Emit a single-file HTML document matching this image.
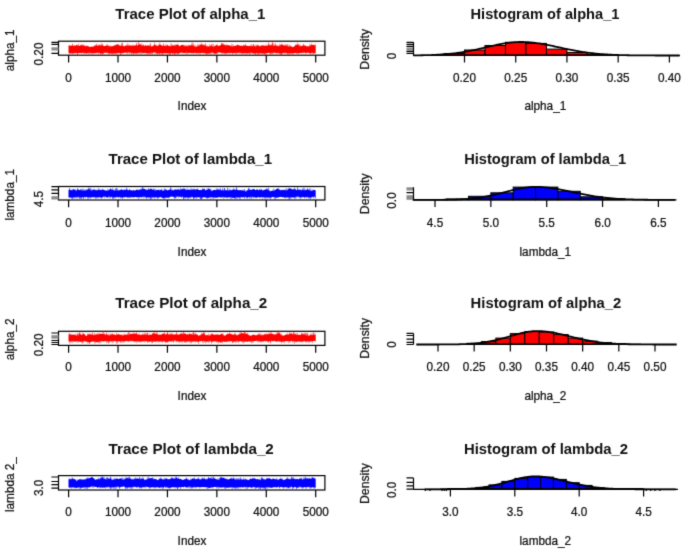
<!DOCTYPE html>
<html><head><meta charset="utf-8"><title>MCMC diagnostics</title>
<style>html,body{margin:0;padding:0;background:#fff;width:685px;height:559px;overflow:hidden}svg{display:block}</style>
</head><body>
<svg width="685" height="559" viewBox="0 0 685 559" font-family="Liberation Sans, Arial, sans-serif" fill="#111">
<style>text{stroke:#111;stroke-width:0.25px}text[font-weight]{stroke-width:0px}</style>
<rect width="685" height="559" fill="#fff"/>
<defs><filter id="b" x="0" y="0" width="685" height="559" filterUnits="userSpaceOnUse" color-interpolation-filters="sRGB"><feConvolveMatrix order="3" kernelMatrix="1 6 1 6 36 6 1 6 1" divisor="64" edgeMode="duplicate" preserveAlpha="true"/></filter></defs><g filter="url(#b)">
<rect width="685" height="559" fill="#fff"/>
<text transform="translate(14.3 50.3) rotate(-90) scale(0.9800 1.0000)" font-size="12" text-anchor="middle">alpha_1</text>
<text transform="translate(14.3 194.8) rotate(-90) scale(0.9800 1.0000)" font-size="12" text-anchor="middle">lambda_1</text>
<text transform="translate(14.3 339.4) rotate(-90) scale(0.9800 1.0000)" font-size="12" text-anchor="middle">alpha_2</text>
<text transform="translate(14.3 484.6) rotate(-90) scale(0.9800 1.0000)" font-size="12" text-anchor="middle">lambda 2_</text>
<text transform="translate(190.35 19.25) scale(0.9997 1.0300)" font-size="15" text-anchor="middle" font-weight="bold">Trace Plot of alpha_1</text>
<rect x="58.5" y="41.2" width="266.4" height="14" fill="none" stroke="#000" stroke-width="1.2"/>
<rect x="51.4" y="47.3" width="7.1" height="3.2" fill="#8c8c8c"/>
<path d="M68.6 55.2V62.5M118.02 55.2V62.5M167.44 55.2V62.5M216.86 55.2V62.5M266.28 55.2V62.5M315.7 55.2V62.5M51.4 42.3H58.5M51.4 44.4H58.5M51.4 53.4H58.5" stroke="#000" stroke-width="1.2" fill="none"/>
<text transform="translate(68.6 82) scale(0.9800 1.0000)" font-size="12" text-anchor="middle">0</text>
<text transform="translate(118.02 82) scale(0.9800 1.0000)" font-size="12" text-anchor="middle">1000</text>
<text transform="translate(167.44 82) scale(0.9800 1.0000)" font-size="12" text-anchor="middle">2000</text>
<text transform="translate(216.86 82) scale(0.9800 1.0000)" font-size="12" text-anchor="middle">3000</text>
<text transform="translate(266.28 82) scale(0.9800 1.0000)" font-size="12" text-anchor="middle">4000</text>
<text transform="translate(315.7 82) scale(0.9800 1.0000)" font-size="12" text-anchor="middle">5000</text>
<text transform="translate(192 109.6) scale(0.9800 1.0000)" font-size="12" text-anchor="middle">Index</text>
<text transform="translate(42.6 54) rotate(-90) scale(0.9800 1.0000)" font-size="12" text-anchor="middle">0.20</text>
<polygon points="68.6,44.54 69.6,45.21 70.6,45.54 71.6,45.78 72.6,44.52 73.6,45.78 74.6,44.66 75.6,45.58 76.6,44.67 77.6,45.13 78.6,43 79.6,45.76 80.6,45.01 81.6,44.15 82.6,43.94 83.6,44.96 84.6,44.42 85.6,45.82 86.6,45.61 87.6,45.5 88.6,46.06 89.6,46.8 90.6,46.58 91.6,46.61 92.6,46.56 93.6,46.17 94.6,45.35 95.6,44.62 96.6,43.56 97.6,45.03 98.6,44.34 99.6,44.48 100.6,44.69 101.6,42.69 102.6,44.04 103.6,45.69 104.6,45.88 105.6,45.93 106.6,44.2 107.6,43.97 108.6,45.79 109.6,45.3 110.6,45.2 111.6,46.25 112.6,46 113.6,45.83 114.6,44.84 115.6,44.62 116.6,44.21 117.6,44.14 118.6,44.87 119.6,44.06 120.6,45.79 121.6,45.79 122.6,45.5 123.6,45.91 124.6,45.72 125.6,45.18 126.6,44.74 127.6,42.89 128.6,44.41 129.6,44.7 130.6,45.74 131.6,45.5 132.6,44 133.6,45.34 134.6,44.69 135.6,45.28 136.6,44.71 137.6,45.54 138.6,44.44 139.6,43.29 140.6,44.25 141.6,42.89 142.6,44.79 143.6,44.75 144.6,45.33 145.6,45.21 146.6,45.71 147.6,45.12 148.6,45.23 149.6,43.93 150.6,46.04 151.6,46.23 152.6,45.42 153.6,45.5 154.6,41.77 155.6,44.82 156.6,44.48 157.6,45.71 158.6,44.04 159.6,42.15 160.6,44.12 161.6,45.24 162.6,45.15 163.6,45.12 164.6,45.62 165.6,44.2 166.6,44.36 167.6,44.59 168.6,45.76 169.6,45.92 170.6,43.35 171.6,43.42 172.6,44.71 173.6,45.28 174.6,44.33 175.6,44.2 176.6,44.65 177.6,43.3 178.6,44.67 179.6,45.45 180.6,45.51 181.6,44.99 182.6,44.51 183.6,44.85 184.6,44.84 185.6,44.85 186.6,45.36 187.6,44.7 188.6,44.38 189.6,45.27 190.6,45.39 191.6,42.38 192.6,42.51 193.6,43.02 194.6,45.02 195.6,45.07 196.6,46.28 197.6,43.54 198.6,44.7 199.6,44.01 200.6,43.49 201.6,44.63 202.6,44.65 203.6,43.7 204.6,44.81 205.6,44.58 206.6,45.88 207.6,44.89 208.6,46.53 209.6,43.61 210.6,45.12 211.6,43.72 212.6,43.73 213.6,43.81 214.6,46.15 215.6,45.2 216.6,44.09 217.6,44.4 218.6,45.94 219.6,45.78 220.6,44.89 221.6,43.13 222.6,44.43 223.6,43 224.6,44.51 225.6,44.46 226.6,44.13 227.6,44.8 228.6,45.13 229.6,45 230.6,45.46 231.6,43.39 232.6,43.93 233.6,45.17 234.6,46.05 235.6,45.42 236.6,45.29 237.6,43.91 238.6,45.11 239.6,45.18 240.6,45.84 241.6,45.23 242.6,45.77 243.6,44.49 244.6,45.25 245.6,43.29 246.6,45.88 247.6,45.73 248.6,46.02 249.6,45.64 250.6,45.03 251.6,43.53 252.6,45.55 253.6,44.5 254.6,45.77 255.6,44.49 256.6,44.74 257.6,44.35 258.6,45.31 259.6,45.75 260.6,45.27 261.6,44.66 262.6,45.99 263.6,44.5 264.6,45.72 265.6,44.37 266.6,44.42 267.6,45.22 268.6,43.72 269.6,45 270.6,43.88 271.6,43.9 272.6,42.84 273.6,43.7 274.6,43.95 275.6,42.81 276.6,45.56 277.6,44.34 278.6,46.01 279.6,43.27 280.6,44.39 281.6,43.29 282.6,44.22 283.6,45.28 284.6,44.44 285.6,43.86 286.6,44.54 287.6,46.19 288.6,45.31 289.6,44.18 290.6,45.53 291.6,46.49 292.6,46.9 293.6,46.39 294.6,46.12 295.6,43.71 296.6,44.84 297.6,41.71 298.6,45.04 299.6,43.85 300.6,44.91 301.6,45.83 302.6,45.39 303.6,44.16 304.6,45.18 305.6,45.45 306.6,46.33 307.6,45.65 308.6,46.19 309.6,43.37 310.6,44.95 311.6,42.48 312.6,44.98 313.6,44.32 314.6,45.07 315.6,42.14 315.6,53.7 314.6,53.29 313.6,53.13 312.6,54.26 311.6,53.1 310.6,55.13 309.6,53.64 308.6,52.84 307.6,53.1 306.6,53.22 305.6,54.49 304.6,52.58 303.6,53.14 302.6,53.35 301.6,53.52 300.6,53.36 299.6,53.17 298.6,54.33 297.6,53.51 296.6,54.17 295.6,53.23 294.6,53.12 293.6,53.99 292.6,54.97 291.6,53.47 290.6,53.46 289.6,55.14 288.6,54.81 287.6,53.73 286.6,53.54 285.6,53.15 284.6,54.63 283.6,52.9 282.6,53.9 281.6,54.69 280.6,55.12 279.6,54.36 278.6,54.1 277.6,53.31 276.6,54.48 275.6,53.36 274.6,52.81 273.6,53.95 272.6,53.6 271.6,54.47 270.6,54.17 269.6,54.05 268.6,53.03 267.6,52.96 266.6,54.64 265.6,54.43 264.6,55.26 263.6,53.56 262.6,53.81 261.6,54.66 260.6,53.39 259.6,55.04 258.6,54.49 257.6,54.08 256.6,53.14 255.6,54.52 254.6,54.17 253.6,54.09 252.6,53.76 251.6,52.75 250.6,53.25 249.6,52.94 248.6,53.53 247.6,53.78 246.6,54.09 245.6,54.77 244.6,53.49 243.6,53.23 242.6,54.42 241.6,54.31 240.6,53.45 239.6,53.63 238.6,53.45 237.6,53.03 236.6,53.66 235.6,54.51 234.6,53.21 233.6,53.62 232.6,55.12 231.6,53.29 230.6,53.24 229.6,53.3 228.6,53.04 227.6,54.12 226.6,53.63 225.6,53.84 224.6,54.99 223.6,53.3 222.6,54.27 221.6,53.56 220.6,52.63 219.6,52.28 218.6,52.53 217.6,53.05 216.6,54.93 215.6,53.61 214.6,54.82 213.6,53.14 212.6,53.49 211.6,54.05 210.6,54.35 209.6,54.81 208.6,53.82 207.6,53.91 206.6,55.02 205.6,53.71 204.6,53.17 203.6,53.85 202.6,53.33 201.6,53.04 200.6,54.47 199.6,53.89 198.6,54.31 197.6,53.54 196.6,53.75 195.6,53.42 194.6,52.96 193.6,53.99 192.6,53.19 191.6,53.28 190.6,53.61 189.6,53.17 188.6,53.07 187.6,54.3 186.6,54.21 185.6,53.47 184.6,53.47 183.6,53.16 182.6,53.38 181.6,53.24 180.6,52.65 179.6,53.44 178.6,53.93 177.6,55.15 176.6,53.43 175.6,55 174.6,54.01 173.6,53.5 172.6,54.04 171.6,53.06 170.6,55.37 169.6,53.56 168.6,53.78 167.6,54.69 166.6,53.91 165.6,54.12 164.6,53.85 163.6,53.55 162.6,53.71 161.6,54.89 160.6,53.19 159.6,54.26 158.6,53.43 157.6,54.08 156.6,54.11 155.6,54.11 154.6,53.54 153.6,52.8 152.6,54.75 151.6,54.25 150.6,53.73 149.6,53.83 148.6,55 147.6,54.42 146.6,54.78 145.6,53.21 144.6,53.66 143.6,53.35 142.6,53.22 141.6,54.4 140.6,53.79 139.6,54.29 138.6,53.28 137.6,54.42 136.6,54.23 135.6,53.48 134.6,53.73 133.6,55.19 132.6,53.47 131.6,54.44 130.6,53.42 129.6,53.99 128.6,52.93 127.6,54.37 126.6,53.58 125.6,52.5 124.6,52.81 123.6,53.65 122.6,53.27 121.6,53.54 120.6,55.05 119.6,53.5 118.6,53.13 117.6,53.46 116.6,53.73 115.6,53.21 114.6,54.97 113.6,53.73 112.6,55.19 111.6,53.82 110.6,53.31 109.6,53.82 108.6,55.12 107.6,52.93 106.6,53.31 105.6,52.88 104.6,53.05 103.6,52.88 102.6,54.95 101.6,53.76 100.6,54.36 99.6,53.1 98.6,54.53 97.6,53.54 96.6,53.14 95.6,53.87 94.6,53.73 93.6,53.71 92.6,54.95 91.6,53.83 90.6,54.26 89.6,53.94 88.6,54.4 87.6,53.15 86.6,54.08 85.6,53.33 84.6,53.82 83.6,54.58 82.6,53.05 81.6,53.74 80.6,53.11 79.6,53.34 78.6,52.95 77.6,54.9 76.6,53.32 75.6,53.8 74.6,53.79 73.6,53.42 72.6,55.06 71.6,53.34 70.6,53.88 69.6,55.02 68.6,52.88" fill="#ff0000" fill-opacity="0.4"/>
<polygon points="68.6,45.65 69.6,45.82 70.6,45.84 71.6,45.82 72.6,45.42 73.6,45.99 74.6,45.74 75.6,45.95 76.6,44.85 77.6,45.48 78.6,45.8 79.6,46.01 80.6,45.35 81.6,45.29 82.6,45.75 83.6,45.55 84.6,45.93 85.6,46.41 86.6,46.06 87.6,46.36 88.6,46.62 89.6,46.89 90.6,46.97 91.6,46.77 92.6,46.86 93.6,46.78 94.6,45.82 95.6,45.73 96.6,45.94 97.6,46.03 98.6,45.57 99.6,45.53 100.6,45.24 101.6,45.49 102.6,45.48 103.6,45.89 104.6,46.07 105.6,45.99 106.6,45.26 107.6,45.9 108.6,45.8 109.6,46.48 110.6,46.87 111.6,46.3 112.6,46.28 113.6,45.92 114.6,45.58 115.6,45.19 116.6,44.98 117.6,44.33 118.6,44.99 119.6,45.89 120.6,45.83 121.6,45.98 122.6,45.63 123.6,45.91 124.6,46.39 125.6,45.71 126.6,45.48 127.6,45.69 128.6,45.98 129.6,45.3 130.6,45.75 131.6,45.85 132.6,45.68 133.6,46.03 134.6,45.41 135.6,45.59 136.6,45.29 137.6,45.6 138.6,44.66 139.6,44.45 140.6,44.7 141.6,45.61 142.6,45.81 143.6,45.42 144.6,46.15 145.6,45.37 146.6,46.04 147.6,45.55 148.6,45.75 149.6,45.9 150.6,46.09 151.6,46.63 152.6,46.27 153.6,45.75 154.6,44.42 155.6,45.38 156.6,46.08 157.6,46.29 158.6,45.29 159.6,44.95 160.6,44.76 161.6,45.7 162.6,45.98 163.6,45.91 164.6,45.99 165.6,46.04 166.6,45.9 167.6,45.07 168.6,45.93 169.6,46.35 170.6,46.15 171.6,45.63 172.6,45.4 173.6,45.79 174.6,45.43 175.6,45.69 176.6,44.73 177.6,44.85 178.6,45.42 179.6,46.52 180.6,45.74 181.6,45.09 182.6,44.89 183.6,45.55 184.6,46.14 185.6,46.24 186.6,46.07 187.6,46.46 188.6,45.91 189.6,45.55 190.6,45.42 191.6,45.18 192.6,45.31 193.6,45.71 194.6,46.41 195.6,46.92 196.6,46.72 197.6,46.17 198.6,45.71 199.6,45.75 200.6,45.04 201.6,44.77 202.6,44.82 203.6,45.43 204.6,45.45 205.6,45.78 206.6,46.48 207.6,46.58 208.6,46.56 209.6,46.41 210.6,46.01 211.6,45.59 212.6,46.53 213.6,46.61 214.6,46.45 215.6,45.38 216.6,45.24 217.6,45.61 218.6,46.01 219.6,45.78 220.6,45.28 221.6,44.31 222.6,44.49 223.6,44.84 224.6,45.02 225.6,45.7 226.6,45.17 227.6,45.32 228.6,45.55 229.6,45.58 230.6,46.27 231.6,46.19 232.6,46.73 233.6,45.81 234.6,46.33 235.6,45.49 236.6,45.64 237.6,45.08 238.6,45.16 239.6,45.74 240.6,45.99 241.6,45.67 242.6,46.13 243.6,45.44 244.6,45.59 245.6,45.14 246.6,46.03 247.6,45.81 248.6,46.33 249.6,45.76 250.6,46.15 251.6,46.33 252.6,45.92 253.6,46.19 254.6,45.97 255.6,46.69 256.6,45.91 257.6,45.32 258.6,45.81 259.6,46.31 260.6,46.55 261.6,45.52 262.6,46.27 263.6,45.54 264.6,46.02 265.6,46.03 266.6,46.1 267.6,45.72 268.6,44.93 269.6,45.37 270.6,45.41 271.6,45.39 272.6,44.97 273.6,45.88 274.6,45.41 275.6,45.42 276.6,45.63 277.6,46.17 278.6,46.2 279.6,45.64 280.6,45.48 281.6,44.55 282.6,45.1 283.6,45.43 284.6,45.87 285.6,45.5 286.6,45.87 287.6,46.34 288.6,46.58 289.6,46.98 290.6,46.25 291.6,46.55 292.6,47.14 293.6,46.93 294.6,46.15 295.6,45.21 296.6,45.09 297.6,44.51 298.6,45.71 299.6,46.05 300.6,46.55 301.6,46.07 302.6,45.63 303.6,45.68 304.6,45.75 305.6,45.82 306.6,46.46 307.6,46.46 308.6,46.54 309.6,46.13 310.6,45.49 311.6,44.9 312.6,45.05 313.6,45.26 314.6,45.54 315.6,44.94 315.6,53.14 314.6,52.98 313.6,52.92 312.6,52.46 311.6,52.64 310.6,53.33 309.6,52.88 308.6,52.71 307.6,52.54 306.6,52.64 305.6,52.96 304.6,52.57 303.6,52.68 302.6,52.55 301.6,52.72 300.6,52.88 299.6,53.02 298.6,53.08 297.6,53.07 296.6,53.33 295.6,53.12 294.6,52.88 293.6,53.35 292.6,53.17 291.6,53.14 290.6,53.17 289.6,53.34 288.6,53.23 287.6,53.37 286.6,53.27 285.6,52.77 284.6,52.83 283.6,52.81 282.6,53.29 281.6,53.62 280.6,53.69 279.6,53.15 278.6,53.12 277.6,52.78 276.6,53.08 275.6,52.93 274.6,52.52 273.6,52.81 272.6,52.85 271.6,52.85 270.6,52.89 269.6,52.7 268.6,52.68 267.6,52.91 266.6,53 265.6,53.31 264.6,53.46 263.6,53.55 262.6,53.39 261.6,53.18 260.6,53.06 259.6,53.24 258.6,53.16 257.6,53.25 256.6,53.02 255.6,53.2 254.6,53.34 253.6,53.24 252.6,53.18 251.6,52.72 250.6,52.55 249.6,52.8 248.6,53.18 247.6,53.33 246.6,53.15 245.6,52.97 244.6,53 243.6,53.02 242.6,53.17 241.6,52.79 240.6,52.92 239.6,52.39 238.6,52.64 237.6,52.78 236.6,52.9 235.6,52.71 234.6,52.9 233.6,52.97 232.6,53.32 231.6,52.68 230.6,52.92 229.6,52.73 228.6,52.7 227.6,53.04 226.6,53.3 225.6,53.18 224.6,53.19 223.6,52.71 222.6,52.88 221.6,52.85 220.6,52.63 219.6,52.25 218.6,52.21 217.6,52.57 216.6,53.13 215.6,53.52 214.6,53.76 213.6,53.07 212.6,52.44 211.6,52.25 210.6,52.89 209.6,53.01 208.6,53.45 207.6,53.41 206.6,53.22 205.6,53.33 204.6,53.16 203.6,52.85 202.6,53.03 201.6,52.86 200.6,52.98 199.6,52.98 198.6,52.85 197.6,53.08 196.6,53.17 195.6,52.9 194.6,52.76 193.6,52.76 192.6,53.03 191.6,53.15 190.6,52.66 189.6,52.98 188.6,52.81 187.6,52.89 186.6,52.41 185.6,52.74 184.6,52.91 183.6,52.91 182.6,52.61 181.6,52.5 180.6,52.55 179.6,53.06 178.6,53.67 177.6,53.35 176.6,53.18 175.6,53.2 174.6,53.26 173.6,53.34 172.6,53.2 171.6,53 170.6,53.57 169.6,53.47 168.6,53.35 167.6,52.9 166.6,52.91 165.6,53.09 164.6,53 163.6,53.32 162.6,53.19 161.6,53.09 160.6,53.15 159.6,52.88 158.6,53.31 157.6,53.22 156.6,53.15 155.6,52.31 154.6,52.17 153.6,52.3 152.6,53.03 151.6,52.45 150.6,52.75 149.6,53.04 148.6,53.2 147.6,53.17 146.6,52.98 145.6,52.88 144.6,52.81 143.6,53.15 142.6,53.09 141.6,52.6 140.6,52.73 139.6,52.49 138.6,52.7 137.6,52.98 136.6,53.22 135.6,53.33 134.6,53.2 133.6,53.39 132.6,52.73 131.6,52.99 130.6,52.58 129.6,52.44 128.6,52.22 127.6,52.57 126.6,52.71 125.6,52.45 124.6,52.61 123.6,52.76 122.6,53.08 121.6,53.16 120.6,53.25 119.6,53.06 118.6,52.68 117.6,53.28 116.6,53.16 115.6,53.05 114.6,53.17 113.6,53.25 112.6,53.39 111.6,53.23 110.6,53.26 109.6,53.63 108.6,53.32 107.6,52.66 106.6,52.66 105.6,52.56 104.6,52.72 103.6,52.85 102.6,53.15 101.6,53.38 100.6,53.28 99.6,53.04 98.6,52.83 97.6,52.49 96.6,53.06 95.6,53.11 94.6,53.04 93.6,53.08 92.6,53.15 91.6,52.97 90.6,52.66 89.6,52.69 88.6,52.75 87.6,53.01 86.6,53.49 85.6,53.31 84.6,52.99 83.6,52.78 82.6,52.62 81.6,53.16 80.6,52.87 79.6,53.21 78.6,52.75 77.6,53.33 76.6,52.97 75.6,52.82 74.6,52.95 73.6,53.23 72.6,53.26 71.6,53.25 70.6,53.26 69.6,53.22 68.6,52.83" fill="#ff0000" fill-opacity="1"/>
<path d="M72.6 45.42V43.8M77.6 53.33V55.02M96.6 45.94V44.67M100.6 53.28V54.61M102.6 45.48V44.38M102.6 53.15V54.21M103.6 52.85V53.91M111.6 53.23V54.08M115.6 53.05V54.18M120.6 53.25V55.05M121.6 45.98V43.4M122.6 45.63V42.9M131.6 52.99V53.6M136.6 45.29V43M138.6 44.66V42.17M143.6 45.42V44.55M150.6 46.09V43.49M150.6 52.75V54.42M157.6 53.22V54.77M159.6 52.88V54.51M162.6 53.19V54.88M163.6 45.91V43.65M169.6 53.47V55.15M172.6 53.2V54.28M174.6 53.26V54.87M193.6 52.76V53.57M201.6 44.77V43.28M205.6 45.78V43.45M206.6 53.22V54.5M217.6 52.57V53.36M221.6 44.31V43M222.6 44.49V43.37M229.6 52.73V53.76M236.6 52.9V53.71M243.6 53.02V53.79M249.6 52.8V54.14M250.6 52.55V53.81M253.6 46.19V43.99M255.6 53.2V54.89M257.6 53.25V54.73M262.6 46.27V45.19M264.6 53.46V54.44M268.6 44.93V42.58M270.6 52.89V54.36M272.6 44.97V42.24M272.6 52.85V53.61M281.6 53.62V54.57M287.6 46.34V44.16M287.6 53.37V54.68M289.6 46.98V46.07M290.6 53.17V53.72M298.6 45.71V44.51M298.6 53.08V53.75M303.6 45.68V43.93M313.6 52.92V54.19" stroke="#ff0000" stroke-width="0.7" stroke-opacity="0.9" fill="none"/>
<text transform="translate(190.3 163.75) scale(1.0018 1.0300)" font-size="15" text-anchor="middle" font-weight="bold">Trace Plot of lambda_1</text>
<rect x="58.5" y="186.5" width="266.4" height="13.5" fill="none" stroke="#000" stroke-width="1.2"/>
<rect x="51.4" y="196.2" width="7.1" height="3.3" fill="#8c8c8c"/>
<path d="M68.6 200V207.3M118.02 200V207.3M167.44 200V207.3M216.86 200V207.3M266.28 200V207.3M315.7 200V207.3M51.4 186.6H58.5M51.4 189.8H58.5M51.4 193.4H58.5" stroke="#000" stroke-width="1.2" fill="none"/>
<text transform="translate(68.6 226.5) scale(0.9800 1.0000)" font-size="12" text-anchor="middle">0</text>
<text transform="translate(118.02 226.5) scale(0.9800 1.0000)" font-size="12" text-anchor="middle">1000</text>
<text transform="translate(167.44 226.5) scale(0.9800 1.0000)" font-size="12" text-anchor="middle">2000</text>
<text transform="translate(216.86 226.5) scale(0.9800 1.0000)" font-size="12" text-anchor="middle">3000</text>
<text transform="translate(266.28 226.5) scale(0.9800 1.0000)" font-size="12" text-anchor="middle">4000</text>
<text transform="translate(315.7 226.5) scale(0.9800 1.0000)" font-size="12" text-anchor="middle">5000</text>
<text transform="translate(192 255.5) scale(0.9800 1.0000)" font-size="12" text-anchor="middle">Index</text>
<text transform="translate(42.6 199.2) rotate(-90) scale(0.9800 1.0000)" font-size="12" text-anchor="middle">4.5</text>
<polygon points="68.6,189.37 69.6,188.72 70.6,190.18 71.6,189.49 72.6,188.96 73.6,189.1 74.6,189.54 75.6,189.08 76.6,190.19 77.6,187.4 78.6,189.59 79.6,189.95 80.6,188.52 81.6,189.72 82.6,188.14 83.6,189.19 84.6,189.31 85.6,189.43 86.6,189.14 87.6,189.28 88.6,186.29 89.6,188.62 90.6,187.33 91.6,189 92.6,189.78 93.6,188.8 94.6,188.82 95.6,189.65 96.6,189.43 97.6,189.58 98.6,187.4 99.6,189.23 100.6,189.82 101.6,189.27 102.6,188.5 103.6,189.64 104.6,189.68 105.6,190.07 106.6,190.02 107.6,188.98 108.6,189.35 109.6,189.55 110.6,187.49 111.6,189.65 112.6,187.44 113.6,189.53 114.6,189.67 115.6,189.63 116.6,190.29 117.6,188.02 118.6,190.63 119.6,189.25 120.6,189.82 121.6,188.8 122.6,189.65 123.6,189.73 124.6,188.76 125.6,189.78 126.6,186.74 127.6,188.93 128.6,190.43 129.6,188.6 130.6,190.25 131.6,190.27 132.6,190.56 133.6,189.4 134.6,190.36 135.6,190.11 136.6,189.25 137.6,189.49 138.6,189.52 139.6,189.38 140.6,188.41 141.6,188.5 142.6,189 143.6,187.68 144.6,188.9 145.6,189.16 146.6,189.24 147.6,188.98 148.6,189.62 149.6,189.02 150.6,188.01 151.6,188.79 152.6,189.31 153.6,187.69 154.6,190.09 155.6,188.35 156.6,189.91 157.6,189.9 158.6,188.63 159.6,190 160.6,189.25 161.6,188.87 162.6,189.48 163.6,189.86 164.6,189.39 165.6,188.43 166.6,189.25 167.6,190.16 168.6,189.77 169.6,189.52 170.6,189.07 171.6,188.17 172.6,189.48 173.6,189.92 174.6,188.95 175.6,188.93 176.6,189.73 177.6,188.93 178.6,188.31 179.6,189.39 180.6,187.23 181.6,189.52 182.6,188.62 183.6,187.85 184.6,188.35 185.6,189.63 186.6,188.03 187.6,188.68 188.6,189.22 189.6,189.39 190.6,188.29 191.6,188.35 192.6,189.26 193.6,188.62 194.6,188.85 195.6,189.6 196.6,188.96 197.6,188.15 198.6,189.9 199.6,189.95 200.6,189.81 201.6,189.58 202.6,189.52 203.6,188.66 204.6,188.3 205.6,190.08 206.6,189.26 207.6,187.9 208.6,187.81 209.6,188.84 210.6,188.68 211.6,189.37 212.6,190.55 213.6,190 214.6,189.43 215.6,189.83 216.6,187.65 217.6,188.9 218.6,188.64 219.6,188.66 220.6,187.46 221.6,190.47 222.6,187.35 223.6,189.46 224.6,187.56 225.6,190.14 226.6,190.14 227.6,189.92 228.6,189.78 229.6,188.31 230.6,189.4 231.6,189.66 232.6,189.45 233.6,187.6 234.6,189.41 235.6,189.09 236.6,188.34 237.6,189.71 238.6,190 239.6,189.98 240.6,189.91 241.6,189.88 242.6,189.5 243.6,189.81 244.6,190.74 245.6,190.55 246.6,190.1 247.6,189.85 248.6,187.35 249.6,188.46 250.6,189.78 251.6,189.29 252.6,189.17 253.6,188.93 254.6,189.4 255.6,190.01 256.6,188.88 257.6,189.04 258.6,190.34 259.6,188.53 260.6,190.02 261.6,188.44 262.6,190.54 263.6,189.44 264.6,189.63 265.6,189.31 266.6,188.16 267.6,188.47 268.6,187.08 269.6,190.33 270.6,190.74 271.6,190.78 272.6,189.71 273.6,188.1 274.6,190.12 275.6,189.73 276.6,188.96 277.6,188.27 278.6,187.5 279.6,189.41 280.6,190.03 281.6,189.48 282.6,189.99 283.6,189.35 284.6,189.63 285.6,188.82 286.6,187.77 287.6,189.56 288.6,187.49 289.6,188.47 290.6,188.38 291.6,188.69 292.6,189.23 293.6,189.07 294.6,186.77 295.6,189.11 296.6,190.1 297.6,189 298.6,189.06 299.6,189.46 300.6,189.05 301.6,189.55 302.6,187.71 303.6,187.77 304.6,187.71 305.6,189.44 306.6,189.67 307.6,187.18 308.6,189.44 309.6,188.3 310.6,188.28 311.6,189.95 312.6,189.22 313.6,189.64 314.6,189.66 315.6,190.5 315.6,197.11 314.6,196.76 313.6,199.17 312.6,197.06 311.6,197.59 310.6,199.74 309.6,197.54 308.6,198.88 307.6,197.85 306.6,198.67 305.6,197.11 304.6,197.25 303.6,197.06 302.6,198.17 301.6,197.36 300.6,199.42 299.6,198.18 298.6,198.1 297.6,196.72 296.6,197.97 295.6,198.68 294.6,199.13 293.6,197.44 292.6,197.86 291.6,198.24 290.6,198.87 289.6,198.17 288.6,198.74 287.6,198.16 286.6,197.68 285.6,198.61 284.6,197.9 283.6,197.03 282.6,198 281.6,197.03 280.6,197.05 279.6,197.21 278.6,197.66 277.6,197.68 276.6,197.73 275.6,200.01 274.6,199.5 273.6,197.47 272.6,197.09 271.6,197.84 270.6,199.58 269.6,198.48 268.6,197.78 267.6,198.66 266.6,198.09 265.6,199.38 264.6,198.8 263.6,197.55 262.6,199.52 261.6,197.58 260.6,197.49 259.6,198.21 258.6,197.33 257.6,198.11 256.6,197.28 255.6,198.26 254.6,197.4 253.6,198.74 252.6,197.6 251.6,199.47 250.6,198.36 249.6,199.27 248.6,197.39 247.6,197.86 246.6,198.85 245.6,197.59 244.6,197.13 243.6,197.56 242.6,197.49 241.6,197.62 240.6,199.31 239.6,199.86 238.6,197.71 237.6,198.6 236.6,199.4 235.6,197.55 234.6,199.16 233.6,198.06 232.6,198.13 231.6,199.11 230.6,199.56 229.6,197.49 228.6,197.3 227.6,198.92 226.6,197.54 225.6,197.42 224.6,197.65 223.6,199.36 222.6,197.74 221.6,197.81 220.6,197.64 219.6,197.61 218.6,197.51 217.6,197.96 216.6,197.91 215.6,198.14 214.6,197.77 213.6,199.08 212.6,198.82 211.6,197.61 210.6,199.46 209.6,198.07 208.6,198.12 207.6,199.29 206.6,198.31 205.6,197.57 204.6,197.6 203.6,197.87 202.6,197.81 201.6,199.36 200.6,199.56 199.6,198.04 198.6,197.27 197.6,197.67 196.6,199.53 195.6,197.42 194.6,198.78 193.6,198.19 192.6,197.18 191.6,197.87 190.6,198.86 189.6,197.58 188.6,198.43 187.6,199.71 186.6,197.75 185.6,198.59 184.6,198.39 183.6,198.55 182.6,197.01 181.6,196.91 180.6,196.82 179.6,197.01 178.6,197.94 177.6,197.01 176.6,197.76 175.6,198.19 174.6,199.25 173.6,196.99 172.6,197.02 171.6,197.11 170.6,196.65 169.6,197.49 168.6,198.82 167.6,197.52 166.6,198.08 165.6,197.64 164.6,199.97 163.6,199.42 162.6,197.89 161.6,197.64 160.6,197.05 159.6,197.79 158.6,197.51 157.6,200.01 156.6,197.36 155.6,197.67 154.6,199.46 153.6,197.5 152.6,197.66 151.6,199.61 150.6,199.96 149.6,197.73 148.6,198.82 147.6,197.49 146.6,199.82 145.6,198.12 144.6,197.44 143.6,198.8 142.6,196.7 141.6,198.8 140.6,196.98 139.6,198.2 138.6,199.47 137.6,198.1 136.6,197.63 135.6,197.02 134.6,197.55 133.6,197.35 132.6,197.62 131.6,197.25 130.6,197.44 129.6,198.04 128.6,197.79 127.6,198.27 126.6,197.5 125.6,196.95 124.6,198.29 123.6,197.2 122.6,199.83 121.6,197.77 120.6,198.85 119.6,197.19 118.6,198.54 117.6,197.41 116.6,197.19 115.6,198.91 114.6,197.62 113.6,199.73 112.6,197.83 111.6,196.93 110.6,198.25 109.6,198.81 108.6,196.99 107.6,197.42 106.6,198.09 105.6,196.67 104.6,198.87 103.6,196.64 102.6,198.09 101.6,198.98 100.6,198.16 99.6,197.36 98.6,198.44 97.6,198.17 96.6,198.48 95.6,199.13 94.6,198.09 93.6,197.55 92.6,197.67 91.6,197.78 90.6,199.03 89.6,197.82 88.6,199.57 87.6,199.72 86.6,196.87 85.6,198.69 84.6,197.17 83.6,197.72 82.6,197.19 81.6,198.42 80.6,199.63 79.6,197.66 78.6,197.86 77.6,198.68 76.6,198.5 75.6,197.97 74.6,198.97 73.6,198.04 72.6,197.8 71.6,199.17 70.6,197.57 69.6,198.13 68.6,197.54" fill="#0000ff" fill-opacity="0.4"/>
<polygon points="68.6,190.25 69.6,189.74 70.6,190.31 71.6,190.18 72.6,190.25 73.6,189.35 74.6,189.76 75.6,190.41 76.6,190.73 77.6,190.1 78.6,189.77 79.6,190.18 80.6,189.95 81.6,190.37 82.6,190.84 83.6,190.35 84.6,190.67 85.6,190.22 86.6,190.2 87.6,189.73 88.6,188.99 89.6,189.31 90.6,190.03 91.6,190.77 92.6,190.01 93.6,189.76 94.6,190.34 95.6,189.91 96.6,190.57 97.6,190.22 98.6,190.1 99.6,189.88 100.6,190.04 101.6,190.34 102.6,189.83 103.6,189.7 104.6,190.41 105.6,190.42 106.6,190.93 107.6,190.84 108.6,190.24 109.6,189.75 110.6,189.08 111.6,189.68 112.6,189.81 113.6,190.61 114.6,190.53 115.6,190.5 116.6,190.75 117.6,189.99 118.6,190.76 119.6,190.18 120.6,189.95 121.6,189.55 122.6,190.01 123.6,190.23 124.6,190.07 125.6,190 126.6,189.44 127.6,189.98 128.6,190.45 129.6,189.41 130.6,190.49 131.6,190.32 132.6,190.7 133.6,190.16 134.6,190.71 135.6,190.45 136.6,189.68 137.6,190.06 138.6,190.2 139.6,189.87 140.6,189.66 141.6,189.21 142.6,189.33 143.6,188.93 144.6,188.93 145.6,189.76 146.6,190.16 147.6,190.03 148.6,190.07 149.6,189.39 150.6,189.04 151.6,189.27 152.6,189.69 153.6,190.06 154.6,190.29 155.6,190.63 156.6,190.09 157.6,189.95 158.6,190 159.6,190.4 160.6,189.94 161.6,190.03 162.6,191.09 163.6,190.74 164.6,190.21 165.6,190.01 166.6,190.02 167.6,190.56 168.6,189.94 169.6,189.8 170.6,189.2 171.6,190.46 172.6,190.18 173.6,190.38 174.6,189.72 175.6,189.82 176.6,189.78 177.6,189.58 178.6,190.01 179.6,190.05 180.6,189.46 181.6,189.61 182.6,188.95 183.6,189.39 184.6,188.67 185.6,190.06 186.6,190.04 187.6,189.99 188.6,189.81 189.6,189.93 190.6,189.93 191.6,189.87 192.6,189.66 193.6,189.52 194.6,189.44 195.6,189.65 196.6,189.62 197.6,189.3 198.6,190.03 199.6,189.97 200.6,190.25 201.6,190.07 202.6,189.58 203.6,189.31 204.6,189.14 205.6,190.76 206.6,189.81 207.6,189.89 208.6,188.95 209.6,189.02 210.6,190.28 211.6,191.19 212.6,190.8 213.6,190.05 214.6,190.05 215.6,190.22 216.6,189.91 217.6,189.59 218.6,189.87 219.6,190.35 220.6,189.55 221.6,190.63 222.6,190.05 223.6,190.79 224.6,190.08 225.6,190.23 226.6,190.42 227.6,190.31 228.6,190.45 229.6,190.55 230.6,189.97 231.6,190.51 232.6,189.64 233.6,189.72 234.6,189.58 235.6,190.23 236.6,189.73 237.6,189.9 238.6,190.16 239.6,190.16 240.6,190.19 241.6,190.31 242.6,190.74 243.6,190.45 244.6,190.87 245.6,191.75 246.6,191.23 247.6,190.35 248.6,189.42 249.6,189.57 250.6,190.33 251.6,190.06 252.6,189.52 253.6,189.1 254.6,189.44 255.6,190.29 256.6,189.72 257.6,189.78 258.6,190.39 259.6,189.54 260.6,190.11 261.6,189.51 262.6,190.69 263.6,190.22 264.6,190.04 265.6,189.59 266.6,189.25 267.6,189.71 268.6,189.78 269.6,191.13 270.6,191.25 271.6,190.96 272.6,190.65 273.6,190.8 274.6,190.55 275.6,189.85 276.6,189.02 277.6,188.87 278.6,189.51 279.6,189.63 280.6,190.49 281.6,189.95 282.6,190.3 283.6,189.89 284.6,190.24 285.6,190.32 286.6,190.47 287.6,189.94 288.6,189.04 289.6,188.5 290.6,188.52 291.6,189.17 292.6,189.71 293.6,189.32 294.6,189.28 295.6,189.46 296.6,190.17 297.6,189.93 298.6,189.97 299.6,189.67 300.6,190.23 301.6,190.39 302.6,189.78 303.6,190.12 304.6,190.34 305.6,190.3 306.6,189.89 307.6,189.34 308.6,190.04 309.6,189.88 310.6,190.98 311.6,190.98 312.6,190.76 313.6,189.93 314.6,190.04 315.6,190.58 315.6,196.91 314.6,196.39 313.6,196.77 312.6,196.83 311.6,197.33 310.6,197.47 309.6,197.37 308.6,197.27 307.6,196.71 306.6,197 305.6,196.93 304.6,196.93 303.6,196.99 302.6,196.83 301.6,197.28 300.6,197.27 299.6,197.08 298.6,196.39 297.6,196.59 296.6,196.6 295.6,197.01 294.6,197.41 293.6,197.25 292.6,197.26 291.6,197.2 290.6,197.24 289.6,197.55 288.6,197.51 287.6,197.09 286.6,197.35 285.6,197.34 284.6,197.73 283.6,197.02 282.6,196.97 281.6,196.9 280.6,196.81 279.6,196.89 278.6,197.05 277.6,197.44 276.6,197.52 275.6,197.61 274.6,197.37 273.6,197.11 272.6,196.86 271.6,197.19 270.6,197.49 269.6,197.59 268.6,197.32 267.6,197.39 266.6,197.35 265.6,197.3 264.6,197.43 263.6,197.02 262.6,197.12 261.6,197.07 260.6,197.26 259.6,197.25 258.6,196.94 257.6,197.04 256.6,196.89 255.6,197.38 254.6,197.01 253.6,197.08 252.6,196.62 251.6,197.3 250.6,196.84 249.6,197.05 248.6,197.12 247.6,196.94 246.6,197.2 245.6,196.8 244.6,196.83 243.6,197.09 242.6,197.21 241.6,197.11 240.6,196.91 239.6,197.46 238.6,197.26 237.6,197.18 236.6,197.23 235.6,197.12 234.6,197.98 233.6,197.82 232.6,197.69 231.6,197.33 230.6,197.16 229.6,197.2 228.6,197.18 227.6,197.18 226.6,197.41 225.6,197.36 224.6,197.18 223.6,197.1 222.6,196.74 221.6,197.35 220.6,197.19 219.6,197.09 218.6,197.03 217.6,197.22 216.6,197.62 215.6,197.51 214.6,197.59 213.6,197.31 212.6,197.25 211.6,197.04 210.6,197.06 209.6,196.98 208.6,197.75 207.6,197.67 206.6,197.82 205.6,196.96 204.6,197.03 203.6,197.04 202.6,197.55 201.6,197.46 200.6,197.16 199.6,197.28 198.6,197.25 197.6,197.11 196.6,197.13 195.6,197.28 194.6,197.42 193.6,197.55 192.6,196.88 191.6,196.82 190.6,197.09 189.6,197.43 188.6,197.63 187.6,197.31 186.6,197.19 185.6,197.47 184.6,197.32 183.6,197.63 182.6,196.57 181.6,196.79 180.6,196.75 179.6,196.72 178.6,196.59 177.6,196.14 176.6,196.61 175.6,196.78 174.6,196.85 173.6,196.94 172.6,196.42 171.6,196.15 170.6,196.62 169.6,197.28 168.6,197.43 167.6,197.41 166.6,197.62 165.6,197.42 164.6,197.75 163.6,197.95 162.6,197.71 161.6,197.61 160.6,196.66 159.6,197.15 158.6,197.4 157.6,197.61 156.6,197.22 155.6,197.32 154.6,197.06 153.6,197.18 152.6,196.87 151.6,197.21 150.6,197.56 149.6,197.25 148.6,197.34 147.6,197.33 146.6,197.42 145.6,196.93 144.6,196.39 143.6,196.4 142.6,196.64 141.6,197.05 140.6,196.98 139.6,197.04 138.6,197.07 137.6,196.94 136.6,196.89 135.6,196.9 134.6,197.06 133.6,197.34 132.6,197.19 131.6,196.88 130.6,197.24 129.6,197.22 128.6,197.35 127.6,197.2 126.6,196.99 125.6,196.94 124.6,197.02 123.6,197.08 122.6,197.6 121.6,197.38 120.6,197.17 119.6,196.77 118.6,196.95 117.6,197 116.6,196.78 115.6,196.92 114.6,197.42 113.6,197.33 112.6,197.01 111.6,196.84 110.6,196.99 109.6,196.57 108.6,196.79 107.6,196.75 106.6,197.14 105.6,196.59 104.6,196.47 103.6,196.53 102.6,197.05 101.6,197.42 100.6,197.53 99.6,196.96 98.6,196.89 97.6,197.32 96.6,197.3 95.6,197.15 94.6,197.06 93.6,197.02 92.6,197.12 91.6,197.02 90.6,197.3 89.6,197.18 88.6,197.17 87.6,197.32 86.6,196.84 85.6,197.05 84.6,196.73 83.6,197.18 82.6,197.03 81.6,197.51 80.6,197.23 79.6,197.17 78.6,196.68 77.6,196.8 76.6,197.36 75.6,196.86 74.6,197.17 73.6,197.21 72.6,197.55 71.6,197.58 70.6,197.4 69.6,197.25 68.6,197.14" fill="#0000ff" fill-opacity="1"/>
<path d="M69.6 189.74V188.12M72.6 197.55V199.36M77.6 190.1V188.96M79.6 197.17V198.73M81.6 190.37V189.38M81.6 197.51V198.77M83.6 197.18V199.01M107.6 196.75V197.93M112.6 197.01V198.85M115.6 190.5V188.45M116.6 190.75V188.05M142.6 189.33V186.77M148.6 190.07V188.55M150.6 197.56V198.88M152.6 196.87V197.81M154.6 190.29V189.31M164.6 190.21V188.65M170.6 189.2V187.35M174.6 196.85V197.86M175.6 196.78V198.09M181.6 196.79V197.99M183.6 197.63V199.53M193.6 197.55V199.12M200.6 197.16V198.76M201.6 197.46V199.29M202.6 189.58V188.41M205.6 196.96V197.69M224.6 190.08V188.29M227.6 190.31V187.74M235.6 197.12V198.68M236.6 189.73V187.32M244.6 190.87V189.18M244.6 196.83V198.6M247.6 196.94V198.55M248.6 189.42V188.54M256.6 196.89V198.11M289.6 197.55V199.86M297.6 189.93V187.35M304.6 196.93V198.33M309.6 197.37V198.46M315.6 196.91V198.33" stroke="#0000ff" stroke-width="0.7" stroke-opacity="0.9" fill="none"/>
<text transform="translate(191.25 308.35) scale(1.0137 1.0300)" font-size="15" text-anchor="middle" font-weight="bold">Trace Plot of alpha_2</text>
<rect x="58.5" y="331.3" width="266.4" height="14.1" fill="none" stroke="#000" stroke-width="1.2"/>
<rect x="51.4" y="335.2" width="7.1" height="3.5" fill="#8c8c8c"/>
<path d="M68.6 345.4V352.7M118.02 345.4V352.7M167.44 345.4V352.7M216.86 345.4V352.7M266.28 345.4V352.7M315.7 345.4V352.7M51.4 333H58.5M51.4 340.5H58.5M51.4 342.5H58.5M51.4 344.5H58.5" stroke="#000" stroke-width="1.2" fill="none"/>
<text transform="translate(68.6 371.1) scale(0.9800 1.0000)" font-size="12" text-anchor="middle">0</text>
<text transform="translate(118.02 371.1) scale(0.9800 1.0000)" font-size="12" text-anchor="middle">1000</text>
<text transform="translate(167.44 371.1) scale(0.9800 1.0000)" font-size="12" text-anchor="middle">2000</text>
<text transform="translate(216.86 371.1) scale(0.9800 1.0000)" font-size="12" text-anchor="middle">3000</text>
<text transform="translate(266.28 371.1) scale(0.9800 1.0000)" font-size="12" text-anchor="middle">4000</text>
<text transform="translate(315.7 371.1) scale(0.9800 1.0000)" font-size="12" text-anchor="middle">5000</text>
<text transform="translate(192 399.8) scale(0.9800 1.0000)" font-size="12" text-anchor="middle">Index</text>
<text transform="translate(42.6 344.9) rotate(-90) scale(0.9800 1.0000)" font-size="12" text-anchor="middle">0.20</text>
<polygon points="68.6,333.19 69.6,334.36 70.6,334.06 71.6,333.72 72.6,334.63 73.6,334.39 74.6,334.79 75.6,333.6 76.6,334.38 77.6,333.11 78.6,333.23 79.6,332.75 80.6,333.28 81.6,334.92 82.6,332 83.6,333.14 84.6,333.75 85.6,335.68 86.6,335.44 87.6,335.02 88.6,333.56 89.6,333.34 90.6,334.17 91.6,333.03 92.6,334.7 93.6,334.57 94.6,335.09 95.6,334.29 96.6,334.17 97.6,332.98 98.6,333.37 99.6,333 100.6,333.15 101.6,333.64 102.6,331.47 103.6,331.33 104.6,333.48 105.6,334.18 106.6,331.25 107.6,334.72 108.6,332.94 109.6,334.06 110.6,333.28 111.6,333.74 112.6,332.91 113.6,334.62 114.6,334.38 115.6,334.78 116.6,334.96 117.6,333.63 118.6,334.09 119.6,334.43 120.6,334.5 121.6,333.91 122.6,334.28 123.6,334.61 124.6,333.08 125.6,334.51 126.6,334.5 127.6,334.59 128.6,333.74 129.6,331.87 130.6,334.01 131.6,333.12 132.6,333.76 133.6,331.86 134.6,333.38 135.6,332.92 136.6,333.18 137.6,333.85 138.6,333.72 139.6,333.25 140.6,334.25 141.6,334.26 142.6,332.68 143.6,334.31 144.6,332.09 145.6,333.66 146.6,332.53 147.6,332.53 148.6,334.89 149.6,332.9 150.6,334.49 151.6,334.57 152.6,332.72 153.6,333.8 154.6,330.95 155.6,333.5 156.6,331.42 157.6,332.41 158.6,334.7 159.6,333.59 160.6,334.13 161.6,334.33 162.6,333.2 163.6,333.33 164.6,331.99 165.6,334.14 166.6,333.22 167.6,333.06 168.6,334.27 169.6,333.44 170.6,332.59 171.6,333.54 172.6,333.03 173.6,334.49 174.6,334.11 175.6,334.38 176.6,334.09 177.6,333.72 178.6,334.39 179.6,334.03 180.6,333.57 181.6,332.24 182.6,333.27 183.6,332.8 184.6,333.35 185.6,333.59 186.6,334.36 187.6,333.84 188.6,333.55 189.6,333.47 190.6,334.11 191.6,333.47 192.6,332.79 193.6,333.5 194.6,333.36 195.6,332.55 196.6,334.16 197.6,334.39 198.6,335.78 199.6,335.35 200.6,334.58 201.6,332.22 202.6,333.32 203.6,332.84 204.6,333.07 205.6,335.08 206.6,334.66 207.6,334.82 208.6,333.01 209.6,334.83 210.6,333.87 211.6,333.18 212.6,333.73 213.6,334.4 214.6,333.97 215.6,334.57 216.6,334.13 217.6,334.36 218.6,334.23 219.6,334.91 220.6,333.89 221.6,333.4 222.6,332.95 223.6,333.66 224.6,335.73 225.6,334.98 226.6,334.54 227.6,333.06 228.6,333.72 229.6,333.4 230.6,333.5 231.6,333.74 232.6,334.02 233.6,334.75 234.6,332.48 235.6,333.17 236.6,334.78 237.6,334.52 238.6,334.48 239.6,332.29 240.6,331.96 241.6,332.53 242.6,332.89 243.6,333.46 244.6,330.98 245.6,332.75 246.6,333.36 247.6,332.57 248.6,334.83 249.6,334.58 250.6,335.47 251.6,335.25 252.6,334.49 253.6,334.51 254.6,334.82 255.6,334.92 256.6,335.03 257.6,333.94 258.6,333.57 259.6,332.77 260.6,333.63 261.6,333.68 262.6,333.94 263.6,334.87 264.6,333.91 265.6,333.48 266.6,333.11 267.6,334.19 268.6,332.16 269.6,333.34 270.6,331.84 271.6,332.18 272.6,333.84 273.6,334.53 274.6,334.35 275.6,333.81 276.6,332.71 277.6,331.42 278.6,330.44 279.6,330.95 280.6,333.92 281.6,333.14 282.6,335.14 283.6,335.98 284.6,334.91 285.6,334.58 286.6,334.14 287.6,332.33 288.6,334.53 289.6,331.29 290.6,332.99 291.6,333.18 292.6,333.82 293.6,331.83 294.6,332.92 295.6,333.45 296.6,333.32 297.6,332.71 298.6,334.47 299.6,334.45 300.6,334.79 301.6,333.63 302.6,333.22 303.6,333.53 304.6,332.59 305.6,333.76 306.6,332.49 307.6,333.19 308.6,335.28 309.6,335.14 310.6,335.04 311.6,333.06 312.6,333.36 313.6,334.15 314.6,333.36 315.6,332.77 315.6,342.47 314.6,340.85 313.6,341.11 312.6,343.53 311.6,341.94 310.6,341.8 309.6,342.79 308.6,341.58 307.6,341.19 306.6,341.45 305.6,342.18 304.6,342.04 303.6,341.5 302.6,342.98 301.6,341.61 300.6,341.89 299.6,341.78 298.6,342.36 297.6,341.77 296.6,342.4 295.6,342.01 294.6,341.75 293.6,341.7 292.6,343.05 291.6,340.8 290.6,341.64 289.6,342.58 288.6,343.51 287.6,341.41 286.6,341.48 285.6,341.15 284.6,343.78 283.6,342.81 282.6,341.77 281.6,343.94 280.6,341.84 279.6,341.89 278.6,341.07 277.6,342.24 276.6,341.98 275.6,341.62 274.6,341.48 273.6,341.07 272.6,341.98 271.6,340.91 270.6,342.4 269.6,341.24 268.6,343.16 267.6,341.83 266.6,341.28 265.6,342.08 264.6,341.07 263.6,342.49 262.6,341.62 261.6,342.45 260.6,342.61 259.6,342.11 258.6,342.31 257.6,342.46 256.6,340.96 255.6,341.05 254.6,341.1 253.6,342.79 252.6,342.55 251.6,344.01 250.6,341.73 249.6,342.15 248.6,341.42 247.6,341.97 246.6,342.08 245.6,341.62 244.6,342.36 243.6,344.02 242.6,343.06 241.6,341.66 240.6,341.16 239.6,341.43 238.6,342.9 237.6,342.76 236.6,340.88 235.6,343.82 234.6,341.6 233.6,342.69 232.6,343.69 231.6,341.34 230.6,341.19 229.6,341.66 228.6,341.29 227.6,342.22 226.6,342.36 225.6,342.09 224.6,342.34 223.6,341.79 222.6,343.32 221.6,343.02 220.6,342.62 219.6,341.72 218.6,344.24 217.6,342.22 216.6,343.03 215.6,341.28 214.6,341.68 213.6,341.27 212.6,341.86 211.6,342.48 210.6,341.32 209.6,342.33 208.6,341.26 207.6,342.01 206.6,342.33 205.6,343.92 204.6,341.69 203.6,343.44 202.6,342.66 201.6,341.1 200.6,342.12 199.6,341.21 198.6,341.72 197.6,342.25 196.6,341.51 195.6,342.38 194.6,342.21 193.6,341.48 192.6,341.61 191.6,343.51 190.6,343.17 189.6,342.41 188.6,342.13 187.6,342.01 186.6,342.53 185.6,343.01 184.6,342.93 183.6,341.34 182.6,343.54 181.6,342.06 180.6,342.49 179.6,342.21 178.6,342.7 177.6,341.21 176.6,342.17 175.6,342.04 174.6,340.56 173.6,342.63 172.6,341.93 171.6,341.63 170.6,341.41 169.6,341.37 168.6,341.99 167.6,343.22 166.6,342.6 165.6,341.89 164.6,342.09 163.6,341.41 162.6,343.34 161.6,341.92 160.6,341.63 159.6,341.53 158.6,343.02 157.6,341.3 156.6,342.48 155.6,342.03 154.6,341.61 153.6,341.49 152.6,343.17 151.6,343.18 150.6,341.71 149.6,342.07 148.6,341.85 147.6,342.56 146.6,341.21 145.6,341.82 144.6,342.85 143.6,341.91 142.6,341.72 141.6,342.24 140.6,342.4 139.6,342.36 138.6,342.29 137.6,341.35 136.6,343.39 135.6,342.27 134.6,342.36 133.6,341.44 132.6,341.21 131.6,341.13 130.6,341.98 129.6,341.02 128.6,342.53 127.6,341.61 126.6,341.52 125.6,341.36 124.6,341.59 123.6,343.33 122.6,342.1 121.6,343.35 120.6,341.67 119.6,342.07 118.6,341.55 117.6,343.87 116.6,344.18 115.6,341.57 114.6,341.14 113.6,342.06 112.6,343.67 111.6,342.29 110.6,342.08 109.6,342.18 108.6,342.39 107.6,341.46 106.6,343.83 105.6,341.35 104.6,341.84 103.6,341.69 102.6,341.35 101.6,341.3 100.6,342.66 99.6,343.58 98.6,342.95 97.6,342.07 96.6,342.23 95.6,343.03 94.6,344.31 93.6,341.18 92.6,341.96 91.6,341.91 90.6,342.07 89.6,343.18 88.6,342.66 87.6,344.15 86.6,341.75 85.6,341.43 84.6,341.45 83.6,342.43 82.6,343.87 81.6,343.05 80.6,341.67 79.6,341.59 78.6,342.44 77.6,342.78 76.6,341.7 75.6,341.62 74.6,341.54 73.6,341.49 72.6,343.07 71.6,342.42 70.6,342.41 69.6,344.07 68.6,341.3" fill="#ff0000" fill-opacity="0.4"/>
<polygon points="68.6,334.59 69.6,334.51 70.6,334.71 71.6,334.95 72.6,334.78 73.6,334.7 74.6,334.85 75.6,335.52 76.6,335.52 77.6,335.71 78.6,334.97 79.6,333.85 80.6,334.41 81.6,334.93 82.6,334.6 83.6,334.12 84.6,334.22 85.6,335.72 86.6,336.2 87.6,335.1 88.6,334.49 89.6,334.66 90.6,334.22 91.6,335.02 92.6,334.76 93.6,335.07 94.6,335.38 95.6,334.42 96.6,334.69 97.6,334.6 98.6,334.51 99.6,334.11 100.6,334 101.6,333.97 102.6,334.07 103.6,333.93 104.6,334.27 105.6,335.21 106.6,333.85 107.6,335.25 108.6,335.36 109.6,335.46 110.6,334.89 111.6,334.48 112.6,334.28 113.6,334.83 114.6,334.49 115.6,335.24 116.6,335.02 117.6,334.79 118.6,334.12 119.6,334.65 120.6,334.88 121.6,335.34 122.6,335.39 123.6,335.52 124.6,334.8 125.6,334.93 126.6,334.6 127.6,335.15 128.6,334.65 129.6,334.47 130.6,334.07 131.6,334.04 132.6,334.05 133.6,334.02 134.6,333.57 135.6,333.97 136.6,333.78 137.6,334.65 138.6,334.5 139.6,334.93 140.6,335.24 141.6,334.98 142.6,334.75 143.6,334.85 144.6,334.47 145.6,334.4 146.6,334.71 147.6,334.95 148.6,335.15 149.6,335.06 150.6,334.97 151.6,334.66 152.6,333.59 153.6,333.95 154.6,333.55 155.6,333.91 156.6,334.02 157.6,334.27 158.6,335.1 159.6,334.94 160.6,335.01 161.6,334.61 162.6,333.95 163.6,333.73 164.6,334.23 165.6,334.71 166.6,334.13 167.6,334.09 168.6,334.57 169.6,334.71 170.6,334.18 171.6,334.19 172.6,334.5 173.6,334.71 174.6,334.53 175.6,334.57 176.6,334.22 177.6,334.67 178.6,334.86 179.6,334.55 180.6,333.7 181.6,333.75 182.6,334.17 183.6,334.14 184.6,333.79 185.6,333.81 186.6,334.69 187.6,334.42 188.6,334.68 189.6,333.54 190.6,334.34 191.6,334.23 192.6,334.66 193.6,334.27 194.6,334.57 195.6,334.33 196.6,334.92 197.6,334.82 198.6,336.08 199.6,335.57 200.6,335.25 201.6,334.19 202.6,333.97 203.6,334.36 204.6,334.2 205.6,335.39 206.6,335.21 207.6,335.13 208.6,335.61 209.6,335.71 210.6,334.99 211.6,334.45 212.6,333.77 213.6,334.95 214.6,335.04 215.6,334.63 216.6,334.64 217.6,334.4 218.6,335.05 219.6,334.94 220.6,334.18 221.6,333.99 222.6,334.15 223.6,335.41 224.6,335.81 225.6,335.59 226.6,334.55 227.6,334.02 228.6,334.34 229.6,333.68 230.6,333.99 231.6,334.14 232.6,335 233.6,334.79 234.6,334.21 235.6,334.77 236.6,335.21 237.6,335.41 238.6,334.61 239.6,334.2 240.6,333.92 241.6,332.77 242.6,333.4 243.6,333.58 244.6,333.58 245.6,334 246.6,333.86 247.6,334.18 248.6,335.04 249.6,336.05 250.6,335.76 251.6,335.67 252.6,334.91 253.6,334.76 254.6,334.96 255.6,335.61 256.6,335.26 257.6,335.23 258.6,334.36 259.6,334.78 260.6,335.15 261.6,335.35 262.6,335.56 263.6,334.91 264.6,334.32 265.6,334.42 266.6,334.58 267.6,334.26 268.6,334.29 269.6,334.05 270.6,333.87 271.6,333.76 272.6,334.02 273.6,334.53 274.6,334.52 275.6,334.75 276.6,334.21 277.6,333.55 278.6,333.04 279.6,333.55 280.6,334.52 281.6,335.74 282.6,335.31 283.6,336 284.6,335.18 285.6,334.78 286.6,334.54 287.6,334.7 288.6,334.7 289.6,333.89 290.6,333.76 291.6,333.62 292.6,334.61 293.6,334.19 294.6,334.22 295.6,334.15 296.6,335.08 297.6,334.87 298.6,335.15 299.6,334.85 300.6,334.92 301.6,334.73 302.6,334 303.6,334.56 304.6,334.34 305.6,335.39 306.6,335.09 307.6,335.79 308.6,335.66 309.6,335.4 310.6,335.33 311.6,335.02 312.6,335.19 313.6,334.46 314.6,335.03 315.6,334.83 315.6,341.21 314.6,340.8 313.6,341.04 312.6,341.05 311.6,340.94 310.6,341.31 309.6,341.28 308.6,341.33 307.6,341.13 306.6,341.24 305.6,341.54 304.6,340.81 303.6,341.21 302.6,341.18 301.6,341.45 300.6,341.69 299.6,341.17 298.6,341.18 297.6,341.12 296.6,341.91 295.6,341.31 294.6,341.34 293.6,340.96 292.6,341.23 291.6,340.78 290.6,341.08 289.6,341.2 288.6,341.06 287.6,340.96 286.6,341.11 285.6,341.01 284.6,341.18 283.6,341.37 282.6,341.51 281.6,341.98 280.6,341.3 279.6,341.48 278.6,341.04 277.6,341.37 276.6,341.3 275.6,341.15 274.6,340.82 273.6,340.99 272.6,340.98 271.6,340.79 270.6,340.92 269.6,341.04 268.6,341.58 267.6,341.5 266.6,341.1 265.6,340.8 264.6,340.91 263.6,340.98 262.6,341.33 261.6,341.25 260.6,341.32 259.6,341.25 258.6,340.82 257.6,340.85 256.6,340.86 255.6,340.96 254.6,340.92 253.6,340.99 252.6,341.28 251.6,341.58 250.6,341.33 249.6,341.15 248.6,341.26 247.6,341.58 246.6,341.45 245.6,341.57 244.6,341.42 243.6,341.42 242.6,341.21 241.6,341.4 240.6,340.95 239.6,341.3 238.6,341.14 237.6,341.03 236.6,340.56 235.6,341.22 234.6,341.54 233.6,341.79 232.6,341.31 231.6,341.33 230.6,340.91 229.6,341.53 228.6,341.07 227.6,341.58 226.6,341.54 225.6,341.58 224.6,342.02 223.6,341.12 222.6,341.64 221.6,341.47 220.6,341.94 219.6,341.68 218.6,341.64 217.6,341.72 216.6,341.16 215.6,341.27 214.6,341.27 213.6,341.17 212.6,341.68 211.6,341.59 210.6,341.27 209.6,340.92 208.6,340.66 207.6,341.16 206.6,341.78 205.6,341.32 204.6,341.24 203.6,340.84 202.6,341.21 201.6,340.66 200.6,341.09 199.6,341.15 198.6,341.23 197.6,341.73 196.6,341.17 195.6,341.41 194.6,341.03 193.6,341.35 192.6,341.53 191.6,341.73 190.6,341.21 189.6,341.29 188.6,340.78 187.6,341.4 186.6,341.33 185.6,341.72 184.6,341.41 183.6,341.33 182.6,340.94 181.6,341.21 180.6,341.51 179.6,341.47 178.6,341.48 177.6,341.12 176.6,341.21 175.6,340.36 174.6,340.49 173.6,340.81 172.6,340.83 171.6,341.21 170.6,341.21 169.6,341.3 168.6,341.37 167.6,341.82 166.6,341.89 165.6,341.53 164.6,341.14 163.6,341.21 162.6,341.31 161.6,341.56 160.6,341.17 159.6,341.45 158.6,341.17 157.6,341.2 156.6,341.12 155.6,341.39 154.6,341.54 153.6,341.46 152.6,341.27 151.6,341.19 150.6,341.55 149.6,341.61 148.6,341.55 147.6,341.39 146.6,341.04 145.6,341.24 144.6,340.83 143.6,341.04 142.6,341.22 141.6,341.14 140.6,341.47 139.6,341.33 138.6,341.61 137.6,341.14 136.6,341.24 135.6,341.24 134.6,341.19 133.6,341.33 132.6,340.96 131.6,340.74 130.6,340.69 129.6,340.82 128.6,341.33 127.6,341 126.6,340.85 125.6,341.13 124.6,341.34 123.6,341.22 122.6,341.34 121.6,340.97 120.6,341.11 119.6,341.1 118.6,341.31 117.6,341.27 116.6,341.58 115.6,341.01 114.6,340.72 113.6,341.22 112.6,341.07 111.6,341.13 110.6,340.8 109.6,341.24 108.6,341.45 107.6,341.25 106.6,341.23 105.6,341.08 104.6,341.05 103.6,341.33 102.6,341.13 101.6,341.14 100.6,341.17 99.6,341.62 98.6,341.73 97.6,341.79 96.6,342.13 95.6,341.51 94.6,341.71 93.6,341.14 92.6,341.13 91.6,341.52 90.6,341.95 89.6,341.94 88.6,341.91 87.6,341.67 86.6,341.48 85.6,341.42 84.6,340.82 83.6,341.15 82.6,341.27 81.6,341.65 80.6,341.64 79.6,341.58 78.6,341.23 77.6,341.21 76.6,341.09 75.6,341.49 74.6,341.44 73.6,341.23 72.6,340.88 71.6,341.18 70.6,341.25 69.6,341.47 68.6,341.3" fill="#ff0000" fill-opacity="1"/>
<path d="M69.6 334.51V333.12M77.6 335.71V333.87M79.6 333.85V332.39M82.6 341.27V342.44M87.6 335.1V333.58M89.6 334.66V333.86M89.6 341.94V343.88M92.6 334.76V332.76M94.6 335.38V333.22M96.6 334.69V333.81M97.6 341.79V342.62M108.6 341.45V343.47M116.6 335.02V333.2M120.6 341.11V342.61M127.6 335.15V333.59M128.6 334.65V332.34M136.6 333.78V332.51M147.6 334.95V333.12M147.6 341.39V342.66M152.6 341.27V342.74M153.6 333.95V332.66M164.6 334.23V333.1M165.6 341.53V343.06M167.6 334.09V331.74M173.6 340.81V342.18M176.6 334.22V332.29M183.6 334.14V332.14M193.6 334.27V331.96M196.6 334.92V334.12M198.6 341.23V343.6M203.6 334.36V332.2M204.6 334.2V332.74M208.6 340.66V342.76M211.6 341.59V343.41M220.6 341.94V343M229.6 333.68V332.44M232.6 341.31V342.63M236.6 340.56V341.92M244.6 333.58V331.96M270.6 340.92V343.26M293.6 334.19V332.48M294.6 341.34V343.65M301.6 334.73V332.91M305.6 335.39V333.4M306.6 341.24V342.43M307.6 335.79V333.32M308.6 341.33V342.48M310.6 335.33V333.95M313.6 334.46V332.44" stroke="#ff0000" stroke-width="0.7" stroke-opacity="0.9" fill="none"/>
<text transform="translate(191.2 453.55) scale(1.0123 1.0300)" font-size="15" text-anchor="middle" font-weight="bold">Trace Plot of lambda_2</text>
<rect x="58.5" y="475.6" width="266.4" height="14.4" fill="none" stroke="#000" stroke-width="1.2"/>
<path d="M68.6 490V497.3M118.02 490V497.3M167.44 490V497.3M216.86 490V497.3M266.28 490V497.3M315.7 490V497.3M51.4 477H58.5M51.4 481.5H58.5M51.4 484.7H58.5M51.4 488.1H58.5" stroke="#000" stroke-width="1.2" fill="none"/>
<text transform="translate(68.6 516.3) scale(0.9800 1.0000)" font-size="12" text-anchor="middle">0</text>
<text transform="translate(118.02 516.3) scale(0.9800 1.0000)" font-size="12" text-anchor="middle">1000</text>
<text transform="translate(167.44 516.3) scale(0.9800 1.0000)" font-size="12" text-anchor="middle">2000</text>
<text transform="translate(216.86 516.3) scale(0.9800 1.0000)" font-size="12" text-anchor="middle">3000</text>
<text transform="translate(266.28 516.3) scale(0.9800 1.0000)" font-size="12" text-anchor="middle">4000</text>
<text transform="translate(315.7 516.3) scale(0.9800 1.0000)" font-size="12" text-anchor="middle">5000</text>
<text transform="translate(192 544.8) scale(0.9800 1.0000)" font-size="12" text-anchor="middle">Index</text>
<text transform="translate(42.6 487.9) rotate(-90) scale(0.9800 1.0000)" font-size="12" text-anchor="middle">3.0</text>
<polygon points="68.6,478.43 69.6,478.01 70.6,479.23 71.6,478.08 72.6,477.31 73.6,478.41 74.6,479.1 75.6,479.31 76.6,480.25 77.6,480.38 78.6,479.74 79.6,479.24 80.6,478.93 81.6,479.51 82.6,479.32 83.6,479.62 84.6,479.08 85.6,478.8 86.6,478.04 87.6,477.27 88.6,477.67 89.6,478.02 90.6,477.71 91.6,477.21 92.6,477.33 93.6,478.22 94.6,478.61 95.6,479.72 96.6,478.89 97.6,479.3 98.6,477.03 99.6,478.71 100.6,476.88 101.6,476.17 102.6,476.15 103.6,477.12 104.6,477.13 105.6,478.43 106.6,478.85 107.6,477.32 108.6,478.45 109.6,478.54 110.6,477.08 111.6,478.6 112.6,479.76 113.6,478.07 114.6,478.21 115.6,478.04 116.6,478.53 117.6,478.39 118.6,479.11 119.6,478.5 120.6,478.22 121.6,477.67 122.6,477.6 123.6,478.11 124.6,479.03 125.6,477.07 126.6,477.03 127.6,477.95 128.6,476.48 129.6,478.44 130.6,477.78 131.6,478.92 132.6,478.48 133.6,478.67 134.6,478.5 135.6,476.92 136.6,478.24 137.6,478.35 138.6,479.02 139.6,477.55 140.6,478.57 141.6,478.35 142.6,477.08 143.6,477.56 144.6,479.52 145.6,479.75 146.6,478.85 147.6,477.06 148.6,476.54 149.6,478.2 150.6,477.89 151.6,478.03 152.6,476.91 153.6,478.43 154.6,478.4 155.6,479.06 156.6,479.05 157.6,480.21 158.6,478.81 159.6,478.88 160.6,476.8 161.6,478.82 162.6,479.32 163.6,478.12 164.6,478.15 165.6,478.05 166.6,477.84 167.6,478.89 168.6,479.06 169.6,478.92 170.6,478.13 171.6,476.96 172.6,477.62 173.6,478.17 174.6,477.66 175.6,476.49 176.6,476.01 177.6,478.58 178.6,476.86 179.6,478.95 180.6,478.83 181.6,479.13 182.6,479.45 183.6,479.63 184.6,479.07 185.6,478.76 186.6,477.97 187.6,478.87 188.6,478.92 189.6,480.36 190.6,477.93 191.6,478.89 192.6,478.14 193.6,478.47 194.6,476.86 195.6,479.38 196.6,478.4 197.6,478.19 198.6,478.35 199.6,479.14 200.6,479.37 201.6,477.67 202.6,477.58 203.6,478.08 204.6,477.16 205.6,479.28 206.6,477.91 207.6,479.02 208.6,477.57 209.6,478.46 210.6,477.58 211.6,476.86 212.6,477.18 213.6,478.13 214.6,477.77 215.6,478.7 216.6,479.29 217.6,478.1 218.6,479.11 219.6,477.69 220.6,477.57 221.6,476.4 222.6,477.84 223.6,477.69 224.6,478.42 225.6,478.56 226.6,479.67 227.6,478.85 228.6,479.55 229.6,478.55 230.6,478.34 231.6,477.22 232.6,478.15 233.6,478.2 234.6,478.58 235.6,478.31 236.6,477.97 237.6,479.32 238.6,477.92 239.6,477.9 240.6,479.05 241.6,479.01 242.6,479.38 243.6,477.51 244.6,479.14 245.6,478.1 246.6,479.19 247.6,479.23 248.6,479.72 249.6,479.42 250.6,478.01 251.6,478.89 252.6,477.41 253.6,477.93 254.6,478.31 255.6,478.85 256.6,479.22 257.6,478.86 258.6,479.15 259.6,478.86 260.6,478.4 261.6,478.59 262.6,477.11 263.6,479.08 264.6,478.7 265.6,479.49 266.6,477.45 267.6,478.01 268.6,478.19 269.6,477.95 270.6,478.77 271.6,479.25 272.6,478.22 273.6,478.59 274.6,478.64 275.6,479.11 276.6,477.68 277.6,478.98 278.6,479.33 279.6,478.86 280.6,477.17 281.6,478.56 282.6,478.36 283.6,479.81 284.6,479.76 285.6,479.43 286.6,477.49 287.6,477.01 288.6,478.63 289.6,478.54 290.6,479.47 291.6,476.31 292.6,477.38 293.6,476.97 294.6,478.43 295.6,478.81 296.6,478.72 297.6,478.67 298.6,479.33 299.6,477.95 300.6,477.8 301.6,478.64 302.6,478.89 303.6,477.09 304.6,477.15 305.6,476.38 306.6,477.73 307.6,478.12 308.6,478.53 309.6,477.24 310.6,478.69 311.6,477.27 312.6,477.33 313.6,477.68 314.6,477.94 315.6,478.66 315.6,488.01 314.6,488.79 313.6,488.74 312.6,487.47 311.6,487.63 310.6,489.13 309.6,488.23 308.6,487.3 307.6,487.47 306.6,488.73 305.6,488.85 304.6,487.3 303.6,487.45 302.6,489.42 301.6,487.55 300.6,487.52 299.6,487.69 298.6,487.81 297.6,487.83 296.6,489.51 295.6,487.2 294.6,487.29 293.6,486.99 292.6,487.19 291.6,486.81 290.6,488.55 289.6,488.17 288.6,488.58 287.6,488.24 286.6,488.85 285.6,487.23 284.6,487.92 283.6,489.03 282.6,487.83 281.6,487.03 280.6,487.03 279.6,488.3 278.6,486.92 277.6,487.39 276.6,488.2 275.6,487.46 274.6,487.69 273.6,487.43 272.6,488 271.6,488.01 270.6,487.74 269.6,487.8 268.6,487.31 267.6,488.8 266.6,488.87 265.6,487.81 264.6,489.51 263.6,489.11 262.6,487.89 261.6,487.99 260.6,488.31 259.6,489.07 258.6,489 257.6,487.6 256.6,488 255.6,489.15 254.6,488.71 253.6,486.98 252.6,488.49 251.6,487.56 250.6,487.42 249.6,487.13 248.6,487.62 247.6,489.07 246.6,488.63 245.6,488.76 244.6,487.2 243.6,487.43 242.6,487.09 241.6,487.34 240.6,488.86 239.6,487.62 238.6,488.94 237.6,488.27 236.6,488.84 235.6,489.2 234.6,488.46 233.6,488.21 232.6,488.99 231.6,488.36 230.6,487.97 229.6,487.68 228.6,487.83 227.6,487.91 226.6,488.04 225.6,489.19 224.6,489.06 223.6,487.29 222.6,487.16 221.6,488.34 220.6,487.73 219.6,487.87 218.6,488.88 217.6,487.89 216.6,488.8 215.6,487.07 214.6,487.03 213.6,487.31 212.6,488.87 211.6,487.69 210.6,487.72 209.6,488.08 208.6,488.49 207.6,489.08 206.6,488.68 205.6,487.35 204.6,487.59 203.6,487.3 202.6,487.27 201.6,487.14 200.6,487.76 199.6,488.73 198.6,486.9 197.6,487.17 196.6,487.54 195.6,488.18 194.6,488.26 193.6,487.59 192.6,488.55 191.6,488.75 190.6,488.32 189.6,488.42 188.6,486.89 187.6,487.86 186.6,487.42 185.6,487.74 184.6,486.61 183.6,487.86 182.6,487.1 181.6,487.14 180.6,487.07 179.6,487.32 178.6,487.86 177.6,489.04 176.6,487.41 175.6,488.74 174.6,487.71 173.6,488 172.6,487.34 171.6,487.63 170.6,487.97 169.6,489.43 168.6,488.03 167.6,488.14 166.6,487.7 165.6,486.92 164.6,487.06 163.6,487.43 162.6,489.1 161.6,488.54 160.6,487.46 159.6,488.08 158.6,488.22 157.6,487.39 156.6,487.26 155.6,488.43 154.6,488.16 153.6,488.36 152.6,487.77 151.6,487.73 150.6,487.4 149.6,489.13 148.6,487.29 147.6,487.23 146.6,486.75 145.6,488.41 144.6,487.59 143.6,487.91 142.6,487.21 141.6,489.09 140.6,488.28 139.6,487.49 138.6,487.13 137.6,487.97 136.6,487.64 135.6,487.19 134.6,487.02 133.6,487.78 132.6,488.87 131.6,488.75 130.6,489.19 129.6,487.86 128.6,487.75 127.6,489.19 126.6,488.77 125.6,487.62 124.6,487.02 123.6,486.58 122.6,487.01 121.6,487.09 120.6,487.1 119.6,488.7 118.6,486.99 117.6,487.49 116.6,488.38 115.6,488.91 114.6,488.76 113.6,488.98 112.6,488.05 111.6,489.07 110.6,487.7 109.6,488.7 108.6,487.02 107.6,488.56 106.6,487.54 105.6,488.83 104.6,488.12 103.6,488.14 102.6,488.11 101.6,488.05 100.6,488.54 99.6,488.31 98.6,487.57 97.6,488.2 96.6,487.07 95.6,486.98 94.6,487.53 93.6,487.21 92.6,488.15 91.6,487.06 90.6,486.99 89.6,487.79 88.6,487.56 87.6,489.35 86.6,489.15 85.6,488.56 84.6,488.71 83.6,488.13 82.6,487.46 81.6,487.88 80.6,488.45 79.6,488.63 78.6,488.23 77.6,488.07 76.6,488.41 75.6,487.97 74.6,488.74 73.6,487.83 72.6,488 71.6,489.06 70.6,487.85 69.6,488.08 68.6,487.15" fill="#0000ff" fill-opacity="0.4"/>
<polygon points="68.6,479.5 69.6,479.32 70.6,479.3 71.6,479.23 72.6,478.56 73.6,479.28 74.6,479.26 75.6,479.7 76.6,481.45 77.6,480.54 78.6,479.87 79.6,479.34 80.6,479.44 81.6,479.61 82.6,479.82 83.6,479.67 84.6,479.43 85.6,479.65 86.6,478.62 87.6,478.84 88.6,478.59 89.6,478.19 90.6,477.76 91.6,477.34 92.6,477.35 93.6,478.41 94.6,479.17 95.6,479.98 96.6,480 97.6,479.46 98.6,478.93 99.6,479.51 100.6,478.75 101.6,477.97 102.6,477.53 103.6,478.71 104.6,479.03 105.6,479.45 106.6,479.4 107.6,479.22 108.6,478.69 109.6,478.78 110.6,478.57 111.6,479.83 112.6,479.78 113.6,479.97 114.6,479.35 115.6,479.27 116.6,478.84 117.6,478.81 118.6,479.16 119.6,478.81 120.6,478.44 121.6,479.01 122.6,479.5 123.6,480.01 124.6,479.35 125.6,478.53 126.6,478.41 127.6,478.01 128.6,478.38 129.6,478.44 130.6,478.72 131.6,479.39 132.6,479.41 133.6,479.61 134.6,479.28 135.6,478.82 136.6,479.06 137.6,478.37 138.6,479.06 139.6,478.83 140.6,479.39 141.6,478.54 142.6,478.98 143.6,478.76 144.6,480.22 145.6,479.78 146.6,479.85 147.6,478.96 148.6,478.44 149.6,478.62 150.6,478.23 151.6,478.33 152.6,478.81 153.6,479.58 154.6,479.07 155.6,479.3 156.6,479.54 157.6,480.3 158.6,479.81 159.6,479.26 160.6,478.7 161.6,478.87 162.6,479.38 163.6,480.02 164.6,479.35 165.6,478.91 166.6,478.85 167.6,479.17 168.6,479.29 169.6,479.55 170.6,478.77 171.6,478.55 172.6,478.06 173.6,479.08 174.6,478.72 175.6,478.39 176.6,477.63 177.6,478.72 178.6,478.76 179.6,479.02 180.6,478.96 181.6,479.68 182.6,479.96 183.6,479.98 184.6,479.32 185.6,479.24 186.6,478.58 187.6,479.69 188.6,479.75 189.6,480.38 190.6,479.75 191.6,479.55 192.6,478.42 193.6,478.87 194.6,478.76 195.6,479.54 196.6,479.11 197.6,479.19 198.6,478.77 199.6,479.44 200.6,479.53 201.6,479.34 202.6,478.5 203.6,478.95 204.6,478.68 205.6,479.62 206.6,479.45 207.6,479.02 208.6,478.09 209.6,478.54 210.6,478.31 211.6,478.76 212.6,478.71 213.6,478.42 214.6,478.52 215.6,479.04 216.6,479.52 217.6,479.76 218.6,479.96 219.6,479.59 220.6,478.71 221.6,477.62 222.6,478.1 223.6,477.84 224.6,478.44 225.6,478.8 226.6,479.86 227.6,479.32 228.6,479.86 229.6,478.99 230.6,478.78 231.6,478.46 232.6,478.96 233.6,479.1 234.6,479.33 235.6,479.63 236.6,479.5 237.6,479.41 238.6,479.4 239.6,479.8 240.6,479.35 241.6,479.47 242.6,479.86 243.6,479.41 244.6,479.48 245.6,479.59 246.6,479.64 247.6,480.1 248.6,480.21 249.6,479.55 250.6,478.69 251.6,479.04 252.6,478.86 253.6,478.39 254.6,478.51 255.6,478.96 256.6,479.44 257.6,478.9 258.6,479.83 259.6,479.64 260.6,480.18 261.6,478.73 262.6,478.62 263.6,479.56 264.6,479.47 265.6,479.79 266.6,478.71 267.6,478.68 268.6,478.35 269.6,478.42 270.6,478.91 271.6,479.51 272.6,479.03 273.6,478.69 274.6,479.13 275.6,479.26 276.6,479.58 277.6,479.83 278.6,479.9 279.6,479.09 280.6,479 281.6,478.95 282.6,479.65 283.6,480.3 284.6,479.78 285.6,479.55 286.6,478.76 287.6,478.67 288.6,478.88 289.6,479.42 290.6,479.48 291.6,478.21 292.6,478.66 293.6,478.87 294.6,479.21 295.6,479.21 296.6,479.28 297.6,478.96 298.6,479.54 299.6,478.67 300.6,478.77 301.6,479.26 302.6,479.65 303.6,478.99 304.6,479.05 305.6,478.28 306.6,478.82 307.6,478.47 308.6,478.75 309.6,478.56 310.6,478.94 311.6,478.57 312.6,478.28 313.6,477.89 314.6,478.55 315.6,479.08 315.6,487.62 314.6,487.43 313.6,487.28 312.6,487.08 311.6,487.28 310.6,487.33 309.6,486.65 308.6,486.89 307.6,486.79 306.6,486.93 305.6,487.05 304.6,487.08 303.6,487.24 302.6,487.62 301.6,487.18 300.6,486.77 299.6,486.44 298.6,487.13 297.6,487.46 296.6,487.71 295.6,486.99 294.6,487.09 293.6,486.94 292.6,487.14 291.6,486.6 290.6,486.75 289.6,487.1 288.6,487.9 287.6,487.18 286.6,487.05 285.6,487.06 284.6,487.06 283.6,487.23 282.6,487.27 281.6,487 280.6,486.99 279.6,486.81 278.6,486.7 277.6,486.93 276.6,487.06 275.6,487.11 274.6,486.94 273.6,487.12 272.6,487.19 271.6,487.76 270.6,487.46 269.6,487.46 268.6,486.86 267.6,487 266.6,487.07 265.6,487.47 264.6,487.71 263.6,487.49 262.6,487.6 261.6,487.34 260.6,487.67 259.6,487.27 258.6,487.2 257.6,487.16 256.6,487.83 255.6,487.35 254.6,486.91 253.6,486.63 252.6,486.89 251.6,487.53 250.6,487.13 249.6,486.92 248.6,487.16 247.6,487.27 246.6,486.83 245.6,486.96 244.6,486.83 243.6,487.21 242.6,487.02 241.6,486.9 240.6,487.06 239.6,487.06 238.6,487.14 237.6,487.17 236.6,487.43 235.6,487.59 234.6,487.38 233.6,487.39 232.6,487.19 231.6,487.05 230.6,487.15 229.6,487.13 228.6,487.58 227.6,487.45 226.6,487.41 225.6,487.39 224.6,487.26 223.6,487.19 222.6,487.14 221.6,487.28 220.6,487.35 219.6,487.29 218.6,487.08 217.6,486.67 216.6,487 215.6,486.86 214.6,486.97 213.6,487.06 212.6,487.07 211.6,487.31 210.6,487.56 209.6,488.01 208.6,487.69 207.6,487.28 206.6,486.88 205.6,486.91 204.6,486.88 203.6,487.03 202.6,487.04 201.6,486.98 200.6,487.08 199.6,486.93 198.6,486.89 197.6,486.88 196.6,487.18 195.6,486.71 194.6,486.78 193.6,486.97 192.6,487.23 191.6,487.38 190.6,486.67 189.6,486.62 188.6,486.51 187.6,487.17 186.6,486.97 185.6,486.89 184.6,486.52 183.6,486.9 182.6,486.88 181.6,487.07 180.6,487.05 179.6,487.05 178.6,487.36 177.6,487.4 176.6,487.18 175.6,486.94 174.6,486.92 173.6,487.08 172.6,487.11 171.6,487.25 170.6,487.39 169.6,487.63 168.6,487.73 167.6,487.31 166.6,487.06 165.6,486.46 164.6,486.85 163.6,486.98 162.6,487.3 161.6,487.06 160.6,487.24 159.6,487.64 158.6,487.18 157.6,487.06 156.6,487.2 155.6,487.27 154.6,487.2 153.6,486.92 152.6,486.99 151.6,487.02 150.6,487.28 149.6,487.33 148.6,487.28 147.6,486.94 146.6,486.63 145.6,486.61 144.6,486.97 143.6,486.93 142.6,487.08 141.6,487.48 140.6,487.47 139.6,487.34 138.6,486.8 137.6,486.7 136.6,487.29 135.6,486.78 134.6,486.71 133.6,486.5 132.6,487.07 131.6,486.95 130.6,487.42 129.6,486.99 128.6,487.24 127.6,487.39 126.6,487.56 125.6,487.13 124.6,486.74 123.6,486.29 122.6,486.59 121.6,486.81 120.6,486.89 119.6,486.97 118.6,486.68 117.6,486.57 116.6,486.58 115.6,487.11 114.6,487 113.6,487.18 112.6,486.97 111.6,487.27 110.6,487.51 109.6,486.9 108.6,486.71 107.6,486.76 106.6,487.12 105.6,487.04 104.6,487.39 103.6,487.32 102.6,487.29 101.6,487.16 100.6,486.74 99.6,487.12 98.6,487.03 97.6,487.25 96.6,487.02 95.6,486.74 94.6,486.62 93.6,486.58 92.6,486.35 91.6,486.32 90.6,486.67 89.6,487.16 88.6,487.07 87.6,487.55 86.6,487.35 85.6,487.22 84.6,486.91 83.6,487.27 82.6,487.41 81.6,487.69 80.6,487.45 79.6,487.23 78.6,487.31 77.6,487.27 76.6,488.01 75.6,487.47 74.6,487.52 73.6,487.27 72.6,487.02 71.6,487.26 70.6,487.21 69.6,487.44 68.6,486.98" fill="#0000ff" fill-opacity="1"/>
<path d="M69.6 487.44V488.07M77.6 480.54V479.45M80.6 487.45V488.72M96.6 480V478.99M97.6 487.25V487.95M100.6 478.75V478.07M100.6 486.74V487.74M102.6 477.53V476.95M102.6 487.29V487.84M106.6 479.4V477.66M107.6 479.22V477.54M110.6 478.57V476.75M110.6 487.51V488.89M119.6 486.97V488.48M125.6 487.13V488.87M129.6 478.44V476.76M134.6 479.28V478.36M139.6 478.83V477.17M139.6 487.34V488.36M150.6 487.28V488.11M152.6 478.81V477.84M159.6 479.26V478.52M163.6 486.98V488.39M165.6 486.46V487.86M177.6 487.4V488.93M180.6 487.05V488.7M186.6 478.58V477.74M186.6 486.97V487.6M188.6 486.51V487.45M198.6 478.77V477.62M208.6 478.09V476.97M213.6 478.42V476.75M219.6 479.59V478.19M220.6 478.71V476.93M226.6 479.86V478.56M233.6 479.1V477.34M237.6 479.41V478.47M240.6 479.35V477.47M242.6 487.02V487.77M251.6 487.53V488.13M260.6 487.67V489.12M261.6 478.73V477.3M262.6 487.6V488.23M265.6 487.47V489.25M268.6 486.86V487.61M279.6 486.81V488.28M290.6 479.48V478.75M291.6 478.21V477.34M292.6 487.14V488.88M293.6 486.94V488.21M296.6 487.71V488.34M301.6 479.26V477.84M310.6 487.33V488.17M312.6 478.28V477.21" stroke="#0000ff" stroke-width="0.7" stroke-opacity="0.9" fill="none"/>
<text transform="translate(545 19.2) scale(0.9772 1.0300)" font-size="15" text-anchor="middle" font-weight="bold">Histogram of alpha_1</text>
<rect x="444.01" y="53.5" width="20.49" height="2" fill="#ff0000" stroke="#000" stroke-width="1"/>
<rect x="464.5" y="50" width="20.49" height="5.5" fill="#ff0000" stroke="#000" stroke-width="1"/>
<rect x="484.99" y="45.5" width="20.49" height="10" fill="#ff0000" stroke="#000" stroke-width="1"/>
<rect x="505.48" y="42.3" width="20.49" height="13.2" fill="#ff0000" stroke="#000" stroke-width="1"/>
<rect x="525.97" y="43.4" width="20.49" height="12.1" fill="#ff0000" stroke="#000" stroke-width="1"/>
<rect x="546.46" y="49.1" width="20.49" height="6.4" fill="#ff0000" stroke="#000" stroke-width="1"/>
<rect x="566.95" y="52.5" width="20.49" height="3" fill="#ff0000" stroke="#000" stroke-width="1"/>
<rect x="587.44" y="54.7" width="20.49" height="0.8" fill="#ff0000" stroke="#000" stroke-width="1"/>
<path d="M413.27 55.39 L414.61 55.37 L415.95 55.36 L417.29 55.34 L418.63 55.32 L419.97 55.3 L421.31 55.27 L422.64 55.25 L423.98 55.22 L425.32 55.19 L426.66 55.15 L428 55.11 L429.34 55.07 L430.68 55.03 L432.01 54.98 L433.35 54.92 L434.69 54.87 L436.03 54.8 L437.37 54.74 L438.71 54.66 L440.05 54.58 L441.38 54.5 L442.72 54.41 L444.06 54.31 L445.4 54.21 L446.74 54.1 L448.08 53.98 L449.42 53.85 L450.75 53.72 L452.09 53.58 L453.43 53.43 L454.77 53.27 L456.11 53.1 L457.45 52.92 L458.79 52.74 L460.12 52.55 L461.46 52.34 L462.8 52.13 L464.14 51.91 L465.48 51.68 L466.82 51.45 L468.16 51.2 L469.49 50.95 L470.83 50.68 L472.17 50.42 L473.51 50.14 L474.85 49.86 L476.19 49.57 L477.53 49.27 L478.86 48.97 L480.2 48.67 L481.54 48.36 L482.88 48.05 L484.22 47.73 L485.56 47.42 L486.89 47.1 L488.23 46.79 L489.57 46.48 L490.91 46.17 L492.25 45.86 L493.59 45.56 L494.93 45.27 L496.26 44.98 L497.6 44.69 L498.94 44.42 L500.28 44.16 L501.62 43.91 L502.96 43.67 L504.3 43.44 L505.63 43.23 L506.97 43.03 L508.31 42.85 L509.65 42.68 L510.99 42.53 L512.33 42.4 L513.67 42.28 L515 42.19 L516.34 42.11 L517.68 42.06 L519.02 42.02 L520.36 42 L521.7 42 L523.04 42.02 L524.37 42.06 L525.71 42.11 L527.05 42.18 L528.39 42.26 L529.73 42.37 L531.07 42.48 L532.41 42.61 L533.74 42.76 L535.08 42.92 L536.42 43.09 L537.76 43.28 L539.1 43.48 L540.44 43.69 L541.78 43.91 L543.11 44.14 L544.45 44.38 L545.79 44.63 L547.13 44.88 L548.47 45.15 L549.81 45.42 L551.14 45.69 L552.48 45.97 L553.82 46.25 L555.16 46.54 L556.5 46.83 L557.84 47.11 L559.18 47.4 L560.51 47.69 L561.85 47.98 L563.19 48.27 L564.53 48.55 L565.87 48.83 L567.21 49.11 L568.55 49.38 L569.88 49.65 L571.22 49.92 L572.56 50.18 L573.9 50.43 L575.24 50.68 L576.58 50.92 L577.92 51.15 L579.25 51.38 L580.59 51.6 L581.93 51.81 L583.27 52.02 L584.61 52.22 L585.95 52.41 L587.29 52.59 L588.62 52.77 L589.96 52.94 L591.3 53.1 L592.64 53.25 L593.98 53.4 L595.32 53.54 L596.66 53.67 L597.99 53.8 L599.33 53.92 L600.67 54.03 L602.01 54.14 L603.35 54.24 L604.69 54.33 L606.03 54.42 L607.36 54.5 L608.7 54.58 L610.04 54.65 L611.38 54.72 L612.72 54.78 L614.06 54.84 L615.39 54.9 L616.73 54.95 L618.07 55 L619.41 55.04 L620.75 55.08 L622.09 55.12 L623.43 55.15 L624.76 55.18 L626.1 55.21 L627.44 55.24 L628.78 55.27 L630.12 55.29 L631.46 55.31 L632.8 55.33 L634.13 55.34 L635.47 55.36 L636.81 55.37 L638.15 55.39 L639.49 55.4 L640.83 55.41 L642.17 55.42 L643.5 55.43 L644.84 55.44 L646.18 55.44 L647.52 55.45 L648.86 55.45 L650.2 55.46 L651.54 55.46 L652.87 55.47 L654.21 55.47 L655.55 55.48 L656.89 55.48 L658.23 55.48 L659.57 55.48 L660.91 55.49 L662.24 55.49 L663.58 55.49 L664.92 55.49 L666.26 55.49 L667.6 55.49 L668.94 55.49 L670.28 55.49 L671.61 55.5 L672.95 55.5 L674.29 55.5 L675.63 55.5 L676.97 55.5 L678.31 55.5 L679.64 55.5" stroke="#000" stroke-width="1.8" fill="none" stroke-linejoin="round"/>
<path d="M438 54.8H608" stroke="#000" stroke-width="1.3"/>
<rect x="406.5" y="47.5" width="7" height="3" fill="#8c8c8c"/>
<path d="M413.5 55.5H680M413.5 42.3V55.5M406.5 42.3H413.5M406.5 44.4H413.5M406.5 46.4H413.5M406.5 51.4H413.5M406.5 53.4H413.5M464.5 55.5V62.6M515.73 55.5V62.6M566.95 55.5V62.6M618.17 55.5V62.6M669.4 55.5V62.6" stroke="#000" stroke-width="1.2" fill="none"/>
<text transform="translate(464.5 82) scale(0.9800 1.0000)" font-size="12" text-anchor="middle">0.20</text>
<text transform="translate(515.73 82) scale(0.9800 1.0000)" font-size="12" text-anchor="middle">0.25</text>
<text transform="translate(566.95 82) scale(0.9800 1.0000)" font-size="12" text-anchor="middle">0.30</text>
<text transform="translate(618.17 82) scale(0.9800 1.0000)" font-size="12" text-anchor="middle">0.35</text>
<text transform="translate(669.4 82) scale(0.9800 1.0000)" font-size="12" text-anchor="middle">0.40</text>
<text transform="translate(545.3 109.6) scale(0.9800 1.0000)" font-size="12" text-anchor="middle">alpha_1</text>
<text transform="translate(368.6 49.3) rotate(-90) scale(1.0200 1.0000)" font-size="12" text-anchor="middle">Density</text>
<text transform="translate(396.3 56) rotate(-90) scale(0.9800 1.0000)" font-size="12" text-anchor="middle">0</text>
<text transform="translate(545.17 163.7) scale(0.9784 1.0300)" font-size="15" text-anchor="middle" font-weight="bold">Histogram of lambda_1</text>
<rect x="446.17" y="199.4" width="22.34" height="0.5" fill="#0000ff" stroke="#000" stroke-width="1"/>
<rect x="468.51" y="196.3" width="22.34" height="3.6" fill="#0000ff" stroke="#000" stroke-width="1"/>
<rect x="490.85" y="192.8" width="22.34" height="7.1" fill="#0000ff" stroke="#000" stroke-width="1"/>
<rect x="513.19" y="187.1" width="22.34" height="12.8" fill="#0000ff" stroke="#000" stroke-width="1"/>
<rect x="535.53" y="187.1" width="22.34" height="12.8" fill="#0000ff" stroke="#000" stroke-width="1"/>
<rect x="557.87" y="191.3" width="22.34" height="8.6" fill="#0000ff" stroke="#000" stroke-width="1"/>
<rect x="580.21" y="196.8" width="22.34" height="3.1" fill="#0000ff" stroke="#000" stroke-width="1"/>
<rect x="602.55" y="199.1" width="22.34" height="0.8" fill="#0000ff" stroke="#000" stroke-width="1"/>
<path d="M412.66 199.9 L413.98 199.9 L415.3 199.9 L416.62 199.89 L417.94 199.89 L419.26 199.89 L420.57 199.89 L421.89 199.89 L423.21 199.89 L424.53 199.89 L425.85 199.88 L427.17 199.88 L428.49 199.88 L429.81 199.87 L431.13 199.87 L432.45 199.86 L433.77 199.86 L435.08 199.85 L436.4 199.84 L437.72 199.83 L439.04 199.82 L440.36 199.81 L441.68 199.8 L443 199.78 L444.32 199.77 L445.64 199.75 L446.96 199.73 L448.27 199.7 L449.59 199.68 L450.91 199.65 L452.23 199.61 L453.55 199.58 L454.87 199.54 L456.19 199.49 L457.51 199.44 L458.83 199.39 L460.15 199.33 L461.47 199.26 L462.78 199.19 L464.1 199.11 L465.42 199.03 L466.74 198.94 L468.06 198.84 L469.38 198.73 L470.7 198.61 L472.02 198.48 L473.34 198.35 L474.66 198.2 L475.98 198.05 L477.29 197.88 L478.61 197.71 L479.93 197.52 L481.25 197.33 L482.57 197.12 L483.89 196.9 L485.21 196.67 L486.53 196.43 L487.85 196.17 L489.17 195.91 L490.49 195.64 L491.8 195.36 L493.12 195.06 L494.44 194.76 L495.76 194.45 L497.08 194.13 L498.4 193.81 L499.72 193.48 L501.04 193.14 L502.36 192.8 L503.68 192.46 L504.99 192.11 L506.31 191.77 L507.63 191.42 L508.95 191.08 L510.27 190.75 L511.59 190.41 L512.91 190.09 L514.23 189.77 L515.55 189.46 L516.87 189.17 L518.19 188.88 L519.5 188.61 L520.82 188.36 L522.14 188.12 L523.46 187.9 L524.78 187.7 L526.1 187.52 L527.42 187.36 L528.74 187.23 L530.06 187.11 L531.38 187.02 L532.7 186.96 L534.01 186.92 L535.33 186.9 L536.65 186.91 L537.97 186.93 L539.29 186.97 L540.61 187.02 L541.93 187.09 L543.25 187.18 L544.57 187.28 L545.89 187.4 L547.21 187.54 L548.52 187.68 L549.84 187.84 L551.16 188.02 L552.48 188.2 L553.8 188.4 L555.12 188.61 L556.44 188.83 L557.76 189.06 L559.08 189.3 L560.4 189.55 L561.71 189.8 L563.03 190.06 L564.35 190.32 L565.67 190.59 L566.99 190.87 L568.31 191.15 L569.63 191.43 L570.95 191.71 L572.27 191.99 L573.59 192.27 L574.91 192.55 L576.22 192.83 L577.54 193.11 L578.86 193.39 L580.18 193.66 L581.5 193.93 L582.82 194.19 L584.14 194.45 L585.46 194.71 L586.78 194.95 L588.1 195.2 L589.42 195.43 L590.73 195.66 L592.05 195.89 L593.37 196.1 L594.69 196.31 L596.01 196.52 L597.33 196.71 L598.65 196.9 L599.97 197.08 L601.29 197.25 L602.61 197.42 L603.93 197.58 L605.24 197.73 L606.56 197.87 L607.88 198.01 L609.2 198.14 L610.52 198.26 L611.84 198.37 L613.16 198.48 L614.48 198.59 L615.8 198.69 L617.12 198.78 L618.43 198.86 L619.75 198.94 L621.07 199.02 L622.39 199.09 L623.71 199.16 L625.03 199.22 L626.35 199.28 L627.67 199.33 L628.99 199.38 L630.31 199.42 L631.63 199.47 L632.94 199.5 L634.26 199.54 L635.58 199.57 L636.9 199.6 L638.22 199.63 L639.54 199.66 L640.86 199.68 L642.18 199.7 L643.5 199.72 L644.82 199.74 L646.14 199.76 L647.45 199.77 L648.77 199.78 L650.09 199.8 L651.41 199.81 L652.73 199.82 L654.05 199.83 L655.37 199.83 L656.69 199.84 L658.01 199.85 L659.33 199.85 L660.65 199.86 L661.96 199.86 L663.28 199.87 L664.6 199.87 L665.92 199.88 L667.24 199.88 L668.56 199.88 L669.88 199.88 L671.2 199.89 L672.52 199.89 L673.84 199.89 L675.15 199.89" stroke="#000" stroke-width="1.8" fill="none" stroke-linejoin="round"/>
<path d="M446 199.2H625" stroke="#000" stroke-width="1.3"/>
<rect x="406.5" y="187.3" width="7" height="3.2" fill="#8c8c8c"/>
<rect x="406.5" y="195.2" width="7" height="4.6" fill="#8c8c8c"/>
<path d="M413.5 199.9H676.5M413.5 187.3V199.9M406.5 192.7H413.5M435 199.9V207M490.85 199.9V207M546.7 199.9V207M602.55 199.9V207M658.4 199.9V207" stroke="#000" stroke-width="1.2" fill="none"/>
<text transform="translate(435 226.5) scale(0.9800 1.0000)" font-size="12" text-anchor="middle">4.5</text>
<text transform="translate(490.85 226.5) scale(0.9800 1.0000)" font-size="12" text-anchor="middle">5.0</text>
<text transform="translate(546.7 226.5) scale(0.9800 1.0000)" font-size="12" text-anchor="middle">5.5</text>
<text transform="translate(602.55 226.5) scale(0.9800 1.0000)" font-size="12" text-anchor="middle">6.0</text>
<text transform="translate(658.4 226.5) scale(0.9800 1.0000)" font-size="12" text-anchor="middle">6.5</text>
<text transform="translate(545.3 255.5) scale(0.9800 1.0000)" font-size="12" text-anchor="middle">lambda_1</text>
<text transform="translate(368.6 193.8) rotate(-90) scale(1.0200 1.0000)" font-size="12" text-anchor="middle">Density</text>
<text transform="translate(396.3 200.5) rotate(-90) scale(0.9800 1.0000)" font-size="12" text-anchor="middle">0.0</text>
<text transform="translate(545.95 308.3) scale(0.9894 1.0300)" font-size="15" text-anchor="middle" font-weight="bold">Histogram of alpha_2</text>
<rect x="466.93" y="343.3" width="14.47" height="1.2" fill="#ff0000" stroke="#000" stroke-width="1"/>
<rect x="481.4" y="341.6" width="14.47" height="2.9" fill="#ff0000" stroke="#000" stroke-width="1"/>
<rect x="495.87" y="338.1" width="14.47" height="6.4" fill="#ff0000" stroke="#000" stroke-width="1"/>
<rect x="510.33" y="333.6" width="14.47" height="10.9" fill="#ff0000" stroke="#000" stroke-width="1"/>
<rect x="524.8" y="331.6" width="14.47" height="12.9" fill="#ff0000" stroke="#000" stroke-width="1"/>
<rect x="539.27" y="332.1" width="14.47" height="12.4" fill="#ff0000" stroke="#000" stroke-width="1"/>
<rect x="553.73" y="334.6" width="14.47" height="9.9" fill="#ff0000" stroke="#000" stroke-width="1"/>
<rect x="568.2" y="338.1" width="14.47" height="6.4" fill="#ff0000" stroke="#000" stroke-width="1"/>
<rect x="582.67" y="341.1" width="14.47" height="3.4" fill="#ff0000" stroke="#000" stroke-width="1"/>
<rect x="597.13" y="342.6" width="14.47" height="1.9" fill="#ff0000" stroke="#000" stroke-width="1"/>
<rect x="611.6" y="343.6" width="14.47" height="0.9" fill="#ff0000" stroke="#000" stroke-width="1"/>
<rect x="626.07" y="344.2" width="14.47" height="0.3" fill="#ff0000" stroke="#000" stroke-width="1"/>
<path d="M416.3 344.5 L417.61 344.5 L418.92 344.5 L420.23 344.5 L421.53 344.5 L422.84 344.5 L424.15 344.5 L425.46 344.5 L426.77 344.5 L428.08 344.49 L429.39 344.49 L430.69 344.49 L432 344.49 L433.31 344.49 L434.62 344.49 L435.93 344.48 L437.24 344.48 L438.55 344.48 L439.85 344.47 L441.16 344.47 L442.47 344.46 L443.78 344.46 L445.09 344.45 L446.4 344.44 L447.71 344.43 L449.01 344.42 L450.32 344.41 L451.63 344.39 L452.94 344.38 L454.25 344.36 L455.56 344.34 L456.86 344.31 L458.17 344.28 L459.48 344.25 L460.79 344.22 L462.1 344.18 L463.41 344.13 L464.72 344.08 L466.02 344.03 L467.33 343.97 L468.64 343.9 L469.95 343.82 L471.26 343.74 L472.57 343.65 L473.88 343.55 L475.18 343.44 L476.49 343.32 L477.8 343.19 L479.11 343.05 L480.42 342.9 L481.73 342.74 L483.04 342.56 L484.34 342.38 L485.65 342.17 L486.96 341.96 L488.27 341.73 L489.58 341.49 L490.89 341.24 L492.2 340.97 L493.5 340.69 L494.81 340.4 L496.12 340.09 L497.43 339.77 L498.74 339.44 L500.05 339.1 L501.36 338.75 L502.66 338.39 L503.97 338.02 L505.28 337.64 L506.59 337.26 L507.9 336.88 L509.21 336.49 L510.52 336.1 L511.82 335.72 L513.13 335.34 L514.44 334.96 L515.75 334.59 L517.06 334.23 L518.37 333.88 L519.67 333.54 L520.98 333.22 L522.29 332.91 L523.6 332.62 L524.91 332.35 L526.22 332.11 L527.53 331.89 L528.83 331.69 L530.14 331.52 L531.45 331.38 L532.76 331.27 L534.07 331.18 L535.38 331.13 L536.69 331.1 L537.99 331.11 L539.3 331.13 L540.61 331.18 L541.92 331.25 L543.23 331.34 L544.54 331.45 L545.85 331.58 L547.15 331.72 L548.46 331.89 L549.77 332.08 L551.08 332.28 L552.39 332.5 L553.7 332.73 L555.01 332.98 L556.31 333.24 L557.62 333.52 L558.93 333.8 L560.24 334.09 L561.55 334.39 L562.86 334.7 L564.17 335.02 L565.47 335.34 L566.78 335.66 L568.09 335.98 L569.4 336.31 L570.71 336.64 L572.02 336.96 L573.33 337.29 L574.63 337.61 L575.94 337.93 L577.25 338.24 L578.56 338.55 L579.87 338.85 L581.18 339.14 L582.48 339.43 L583.79 339.71 L585.1 339.98 L586.41 340.25 L587.72 340.5 L589.03 340.75 L590.34 340.98 L591.64 341.21 L592.95 341.43 L594.26 341.63 L595.57 341.83 L596.88 342.02 L598.19 342.2 L599.5 342.37 L600.8 342.53 L602.11 342.68 L603.42 342.82 L604.73 342.95 L606.04 343.08 L607.35 343.19 L608.66 343.3 L609.96 343.41 L611.27 343.5 L612.58 343.59 L613.89 343.67 L615.2 343.75 L616.51 343.82 L617.82 343.88 L619.12 343.94 L620.43 343.99 L621.74 344.04 L623.05 344.09 L624.36 344.13 L625.67 344.17 L626.98 344.2 L628.28 344.24 L629.59 344.26 L630.9 344.29 L632.21 344.31 L633.52 344.33 L634.83 344.35 L636.14 344.37 L637.44 344.38 L638.75 344.4 L640.06 344.41 L641.37 344.42 L642.68 344.43 L643.99 344.44 L645.29 344.45 L646.6 344.45 L647.91 344.46 L649.22 344.46 L650.53 344.47 L651.84 344.47 L653.15 344.48 L654.45 344.48 L655.76 344.48 L657.07 344.48 L658.38 344.49 L659.69 344.49 L661 344.49 L662.31 344.49 L663.61 344.49 L664.92 344.49 L666.23 344.49 L667.54 344.5 L668.85 344.5 L670.16 344.5 L671.47 344.5 L672.77 344.5 L674.08 344.5 L675.39 344.5 L676.7 344.5" stroke="#000" stroke-width="1.8" fill="none" stroke-linejoin="round"/>
<path d="M466 343.8H626" stroke="#000" stroke-width="1.3"/>
<path d="M417.5 344.5H676M413.5 333.4V344.5M406.5 333.4H413.5M406.5 335.5H413.5M406.5 339.1H413.5M406.5 342.3H413.5M406.5 344.5H413.5M438 344.5V351.6M474.17 344.5V351.6M510.33 344.5V351.6M546.5 344.5V351.6M582.67 344.5V351.6M618.83 344.5V351.6M655 344.5V351.6" stroke="#000" stroke-width="1.2" fill="none"/>
<text transform="translate(438 371.1) scale(0.9800 1.0000)" font-size="12" text-anchor="middle">0.20</text>
<text transform="translate(474.17 371.1) scale(0.9800 1.0000)" font-size="12" text-anchor="middle">0.25</text>
<text transform="translate(510.33 371.1) scale(0.9800 1.0000)" font-size="12" text-anchor="middle">0.30</text>
<text transform="translate(546.5 371.1) scale(0.9800 1.0000)" font-size="12" text-anchor="middle">0.35</text>
<text transform="translate(582.67 371.1) scale(0.9800 1.0000)" font-size="12" text-anchor="middle">0.40</text>
<text transform="translate(618.83 371.1) scale(0.9800 1.0000)" font-size="12" text-anchor="middle">0.45</text>
<text transform="translate(655 371.1) scale(0.9800 1.0000)" font-size="12" text-anchor="middle">0.50</text>
<text transform="translate(545.3 399.8) scale(0.9800 1.0000)" font-size="12" text-anchor="middle">alpha_2</text>
<text transform="translate(368.6 338.4) rotate(-90) scale(1.0200 1.0000)" font-size="12" text-anchor="middle">Density</text>
<text transform="translate(396.3 344.6) rotate(-90) scale(0.9800 1.0000)" font-size="12" text-anchor="middle">0</text>
<text transform="translate(546.08 453.5) scale(0.9903 1.0300)" font-size="15" text-anchor="middle" font-weight="bold">Histogram of lambda_2</text>
<rect x="463.28" y="488.7" width="12.88" height="0.6" fill="#0000ff" stroke="#000" stroke-width="1"/>
<rect x="476.16" y="487.4" width="12.88" height="1.9" fill="#0000ff" stroke="#000" stroke-width="1"/>
<rect x="489.04" y="484.9" width="12.88" height="4.4" fill="#0000ff" stroke="#000" stroke-width="1"/>
<rect x="501.92" y="481.4" width="12.88" height="7.9" fill="#0000ff" stroke="#000" stroke-width="1"/>
<rect x="514.8" y="478.4" width="12.88" height="10.9" fill="#0000ff" stroke="#000" stroke-width="1"/>
<rect x="527.68" y="476.7" width="12.88" height="12.6" fill="#0000ff" stroke="#000" stroke-width="1"/>
<rect x="540.56" y="477.1" width="12.88" height="12.2" fill="#0000ff" stroke="#000" stroke-width="1"/>
<rect x="553.44" y="479.4" width="12.88" height="9.9" fill="#0000ff" stroke="#000" stroke-width="1"/>
<rect x="566.32" y="482.7" width="12.88" height="6.6" fill="#0000ff" stroke="#000" stroke-width="1"/>
<rect x="579.2" y="485.4" width="12.88" height="3.9" fill="#0000ff" stroke="#000" stroke-width="1"/>
<rect x="592.08" y="487.9" width="12.88" height="1.4" fill="#0000ff" stroke="#000" stroke-width="1"/>
<rect x="604.96" y="488.7" width="12.88" height="0.6" fill="#0000ff" stroke="#000" stroke-width="1"/>
<path d="M424.64 489.3 L425.9 489.3 L427.16 489.3 L428.43 489.29 L429.69 489.29 L430.95 489.29 L432.21 489.29 L433.47 489.29 L434.74 489.29 L436 489.28 L437.26 489.28 L438.52 489.28 L439.79 489.28 L441.05 489.27 L442.31 489.27 L443.57 489.26 L444.83 489.25 L446.1 489.24 L447.36 489.24 L448.62 489.23 L449.88 489.21 L451.14 489.2 L452.41 489.18 L453.67 489.17 L454.93 489.15 L456.19 489.12 L457.45 489.1 L458.72 489.07 L459.98 489.04 L461.24 489 L462.5 488.96 L463.77 488.91 L465.03 488.86 L466.29 488.81 L467.55 488.75 L468.81 488.68 L470.08 488.6 L471.34 488.52 L472.6 488.43 L473.86 488.33 L475.12 488.22 L476.39 488.11 L477.65 487.98 L478.91 487.84 L480.17 487.7 L481.43 487.54 L482.7 487.37 L483.96 487.19 L485.22 486.99 L486.48 486.79 L487.75 486.57 L489.01 486.34 L490.27 486.09 L491.53 485.84 L492.79 485.57 L494.06 485.29 L495.32 485 L496.58 484.7 L497.84 484.38 L499.1 484.06 L500.37 483.73 L501.63 483.39 L502.89 483.04 L504.15 482.68 L505.42 482.32 L506.68 481.96 L507.94 481.6 L509.2 481.23 L510.46 480.87 L511.73 480.51 L512.99 480.15 L514.25 479.8 L515.51 479.46 L516.77 479.13 L518.04 478.8 L519.3 478.5 L520.56 478.2 L521.82 477.93 L523.08 477.67 L524.35 477.43 L525.61 477.22 L526.87 477.03 L528.13 476.86 L529.4 476.71 L530.66 476.6 L531.92 476.51 L533.18 476.44 L534.44 476.41 L535.71 476.4 L536.97 476.42 L538.23 476.45 L539.49 476.51 L540.75 476.59 L542.02 476.69 L543.28 476.81 L544.54 476.95 L545.8 477.11 L547.06 477.29 L548.33 477.48 L549.59 477.69 L550.85 477.91 L552.11 478.15 L553.38 478.4 L554.64 478.67 L555.9 478.94 L557.16 479.23 L558.42 479.52 L559.69 479.82 L560.95 480.13 L562.21 480.44 L563.47 480.76 L564.73 481.07 L566 481.39 L567.26 481.71 L568.52 482.03 L569.78 482.35 L571.04 482.66 L572.31 482.97 L573.57 483.28 L574.83 483.58 L576.09 483.87 L577.36 484.16 L578.62 484.44 L579.88 484.72 L581.14 484.98 L582.4 485.24 L583.67 485.49 L584.93 485.72 L586.19 485.95 L587.45 486.17 L588.71 486.38 L589.98 486.58 L591.24 486.78 L592.5 486.96 L593.76 487.13 L595.02 487.29 L596.29 487.44 L597.55 487.59 L598.81 487.73 L600.07 487.85 L601.34 487.97 L602.6 488.08 L603.86 488.19 L605.12 488.29 L606.38 488.38 L607.65 488.46 L608.91 488.54 L610.17 488.61 L611.43 488.67 L612.69 488.73 L613.96 488.79 L615.22 488.84 L616.48 488.89 L617.74 488.93 L619.01 488.97 L620.27 489 L621.53 489.03 L622.79 489.06 L624.05 489.09 L625.32 489.11 L626.58 489.13 L627.84 489.15 L629.1 489.17 L630.36 489.18 L631.63 489.2 L632.89 489.21 L634.15 489.22 L635.41 489.23 L636.67 489.24 L637.94 489.25 L639.2 489.25 L640.46 489.26 L641.72 489.27 L642.99 489.27 L644.25 489.27 L645.51 489.28 L646.77 489.28 L648.03 489.28 L649.3 489.29 L650.56 489.29 L651.82 489.29 L653.08 489.29 L654.34 489.29 L655.61 489.29 L656.87 489.29 L658.13 489.3 L659.39 489.3 L660.65 489.3 L661.92 489.3 L663.18 489.3 L664.44 489.3 L665.7 489.3 L666.97 489.3 L668.23 489.3 L669.49 489.3 L670.75 489.3 L672.01 489.3 L673.28 489.3 L674.54 489.3 L675.8 489.3" stroke="#000" stroke-width="1.8" fill="none" stroke-linejoin="round"/>
<path d="M447 488.6H643" stroke="#000" stroke-width="1.3"/>
<path d="M413.5 489.3H678M413.5 477.9V489.3M425.3 489.3v1.6M430 489.3v1.6M442 489.3v1.6M444.2 489.3v1.6M446.4 489.3v1.6M646.3 489.3v1.6M650.7 489.3v1.6M655 489.3v1.6M660 489.3v1.6M406.5 477.9H413.5M406.5 482.4H413.5M406.5 485.8H413.5M406.5 489.2H413.5M450.4 489.3V496.4M514.8 489.3V496.4M579.2 489.3V496.4M643.6 489.3V496.4" stroke="#000" stroke-width="1.2" fill="none"/>
<text transform="translate(450.4 516.3) scale(0.9800 1.0000)" font-size="12" text-anchor="middle">3.0</text>
<text transform="translate(514.8 516.3) scale(0.9800 1.0000)" font-size="12" text-anchor="middle">3.5</text>
<text transform="translate(579.2 516.3) scale(0.9800 1.0000)" font-size="12" text-anchor="middle">4.0</text>
<text transform="translate(643.6 516.3) scale(0.9800 1.0000)" font-size="12" text-anchor="middle">4.5</text>
<text transform="translate(545.3 544.8) scale(0.9800 1.0000)" font-size="12" text-anchor="middle">lambda_2</text>
<text transform="translate(368.6 483.6) rotate(-90) scale(1.0200 1.0000)" font-size="12" text-anchor="middle">Density</text>
<text transform="translate(396.3 489.8) rotate(-90) scale(0.9800 1.0000)" font-size="12" text-anchor="middle">0.0</text>
</g></svg>
</body></html>
